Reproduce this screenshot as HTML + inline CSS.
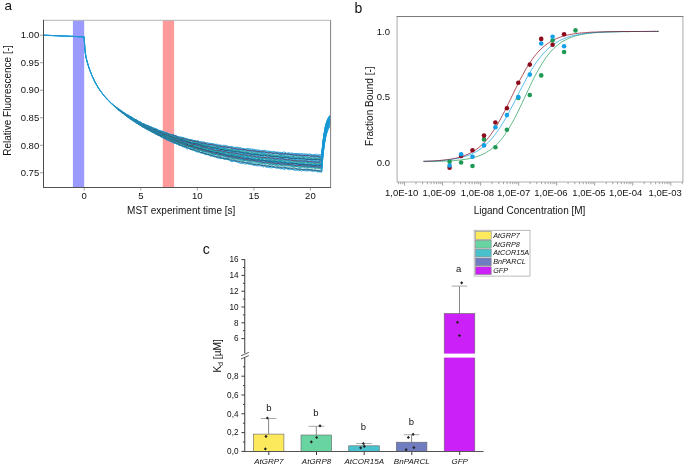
<!DOCTYPE html>
<html><head><meta charset="utf-8"><title>MST figure</title>
<style>
html,body{margin:0;padding:0;background:#fff;}
body{width:685px;height:467px;overflow:hidden;}
svg{display:block;font-family:"Liberation Sans", sans-serif;}
text{fill:#111;}
</style></head><body>
<svg width="685" height="467" viewBox="0 0 685 467">
<rect x="0" y="0" width="685" height="467" fill="#fff"/>
<g id="panel-a">
<text x="4.6" y="9.6" font-size="13.5">a</text>
<clipPath id="ca"><rect x="43.5" y="20.3" width="287.1" height="167.2"/></clipPath>
<rect x="72.9" y="20.3" width="11.3" height="167.2" fill="#9a9aff"/>
<rect x="162.8" y="20.3" width="11.3" height="167.2" fill="#ff9a9a"/>
<linearGradient id="g0" gradientUnits="userSpaceOnUse" x1="112.5" y1="0" x2="186.0" y2="0"><stop offset="0" stop-color="#9c0c1c" stop-opacity="0"/><stop offset="1" stop-color="#9c0c1c" stop-opacity="1"/></linearGradient>
<linearGradient id="g1" gradientUnits="userSpaceOnUse" x1="112.5" y1="0" x2="186.0" y2="0"><stop offset="0" stop-color="#1f9a55" stop-opacity="0"/><stop offset="1" stop-color="#1f9a55" stop-opacity="1"/></linearGradient>
<linearGradient id="g2" gradientUnits="userSpaceOnUse" x1="112.5" y1="0" x2="186.0" y2="0"><stop offset="0" stop-color="#2a2a2a" stop-opacity="0"/><stop offset="1" stop-color="#2a2a2a" stop-opacity="1"/></linearGradient>
<g clip-path="url(#ca)" fill="none" stroke-width="0.8" stroke-linejoin="round">
<polyline stroke="#1b9ad6" points="43.48,35.17 44.89,35.37 46.29,35.27 47.70,35.41 49.10,35.49 50.50,35.47 51.91,35.51 53.31,35.62 54.72,35.70 56.12,35.71 57.52,35.77 58.93,35.77 60.33,35.85 61.74,35.93 63.14,35.95 64.54,36.06 65.95,36.15 67.35,36.14 68.76,36.20 70.16,36.29 71.56,36.37 72.97,36.39 74.37,36.55 75.78,36.48 77.18,36.55 78.58,36.69 79.99,36.68 81.39,36.78 82.80,36.76 84.20,36.93 84.31,39.67 84.82,48.06 85.32,52.86 85.82,56.18 86.33,58.53 86.83,60.53 87.34,62.42 87.84,64.01 88.34,65.78 88.85,67.23 89.35,68.80 89.86,70.06 90.42,71.68 91.58,74.62 92.73,77.42 93.88,79.60 95.04,81.96 96.19,84.08 97.35,86.01 98.50,87.95 99.66,89.80 100.81,91.46 101.97,93.01 103.12,94.16 104.28,95.96 105.43,97.16 106.58,98.38 107.74,99.49 108.89,100.59 110.05,102.03 111.20,103.20 112.36,103.91 113.51,104.66 114.67,105.72 115.82,106.77 116.98,107.80 118.1,108.5 119.3,109.5 120.6,110.2 122.0,111.6 123.3,112.3 124.7,113.3 126.1,114.0 127.4,114.9 128.8,115.1 130.1,116.2 131.5,117.0 132.8,118.9 134.2,119.1 135.6,119.9 136.9,120.3 138.3,121.9 139.6,121.5 141.0,122.2 142.4,123.6 143.7,124.2 145.1,124.7 146.4,125.1 147.8,125.5 149.2,125.6 150.5,127.0 151.9,127.2 153.2,128.0 154.6,128.0 155.9,128.8 157.3,129.2 158.7,130.5 160.0,130.7 161.4,131.4 162.7,131.1 164.1,131.8 165.5,132.6 166.8,133.1 168.2,133.3 169.5,134.1 170.9,134.6 172.3,134.5 173.6,134.3 175.0,135.6 176.3,136.1 177.7,136.6 179.0,137.1 180.4,136.8 181.8,137.1 183.1,137.7 184.5,137.9 185.8,138.3 187.2,138.7 188.6,139.5 189.9,139.5 191.3,139.6 192.6,140.2 194.0,140.4 195.3,140.8 196.7,141.0 198.1,140.9 199.4,141.6 200.8,141.8 202.1,141.7 203.5,142.0 204.9,141.9 206.2,143.4 207.6,142.7 208.9,143.4 210.3,143.4 211.7,143.5 213.0,143.6 214.4,143.9 215.7,144.4 217.1,144.1 218.4,145.0 219.8,145.1 221.2,145.0 222.5,145.7 223.9,145.0 225.2,145.6 226.6,145.4 228.0,146.3 229.3,146.6 230.7,146.6 232.0,146.6 233.4,147.3 234.8,147.1 236.1,147.4 237.5,147.1 238.8,148.0 240.2,147.6 241.5,148.3 242.9,148.6 244.3,148.7 245.6,149.0 247.0,148.7 248.3,148.6 249.7,149.0 251.1,149.0 252.4,148.9 253.8,149.5 255.1,149.6 256.5,149.9 257.9,150.5 259.2,149.9 260.6,150.9 261.9,150.2 263.3,150.6 264.6,150.3 266.0,150.8 267.4,151.2 268.7,151.0 270.1,151.4 271.4,151.4 272.8,151.5 274.2,151.6 275.5,151.8 276.9,152.1 278.2,152.0 279.6,152.8 280.9,152.2 282.3,152.7 283.7,152.0 285.0,152.1 286.4,153.3 287.7,152.7 289.1,152.9 290.5,153.3 291.8,152.9 293.2,153.3 294.5,153.8 295.9,153.4 297.3,153.5 298.6,153.5 300.0,154.0 301.3,153.5 302.7,153.6 304.0,154.3 305.4,154.2 306.8,154.1 308.1,154.4 309.5,153.7 310.8,154.3 312.2,154.8 313.6,154.8 314.9,154.6 316.3,153.9 317.6,154.8 319.0,154.8 320.4,154.7 321.7,155.0 321.9,152.2 322.6,144.8 323.3,138.7 324.0,133.8 324.7,129.8 325.3,126.4 326.0,123.7 326.7,121.5 327.4,119.7 328.0,118.2 328.7,117.0 329.4,116.0 330.1,115.2 330.8,114.5"/>
<polyline stroke="#1b9ad6" points="114.67,105.72 115.82,106.79 116.98,107.64 118.1,108.8 119.3,109.4 120.6,110.6 122.0,111.5 123.3,112.7 124.7,113.7 126.1,114.3 127.4,115.4 128.8,116.2 130.1,116.5 131.5,117.5 132.8,117.4 134.2,118.8 135.6,120.0 136.9,120.3 138.3,121.1 139.6,122.2 141.0,122.3 142.4,123.6 143.7,125.0 145.1,124.3 146.4,125.4 147.8,125.3 149.2,126.7 150.5,127.4 151.9,127.1 153.2,128.5 154.6,128.6 155.9,128.8 157.3,129.7 158.7,130.3 160.0,130.8 161.4,131.0 162.7,132.0 164.1,132.1 165.5,132.5 166.8,132.4 168.2,133.7 169.5,134.4 170.9,134.2 172.3,135.0 173.6,135.2 175.0,135.7 176.3,135.7 177.7,136.7 179.0,136.9 180.4,138.1 181.8,137.9 183.1,137.5 184.5,138.5 185.8,138.9 187.2,139.4 188.6,139.1 189.9,139.6 191.3,140.4 192.6,140.1 194.0,140.5 195.3,140.6 196.7,141.4 198.1,140.9 199.4,141.6 200.8,142.1 202.1,142.5 203.5,142.7 204.9,142.6 206.2,143.2 207.6,143.0 208.9,143.4 210.3,143.4 211.7,143.8 213.0,144.4 214.4,145.2 215.7,144.7 217.1,144.8 218.4,145.2 219.8,145.3 221.2,145.9 222.5,146.0 223.9,146.4 225.2,145.9 226.6,146.5 228.0,146.9 229.3,147.4 230.7,147.2 232.0,146.8 233.4,147.4 234.8,147.9 236.1,147.4 237.5,147.6 238.8,147.9 240.2,148.1 241.5,148.2 242.9,148.6 244.3,148.7 245.6,149.3 247.0,148.8 248.3,149.3 249.7,148.9 251.1,150.4 252.4,149.6 253.8,149.7 255.1,150.3 256.5,150.2 257.9,150.2 259.2,150.4 260.6,150.9 261.9,151.0 263.3,150.7 264.6,150.8 266.0,151.3 267.4,151.4 268.7,151.5 270.1,151.4 271.4,152.2 272.8,152.4 274.2,152.0 275.5,152.6 276.9,152.5 278.2,152.4 279.6,152.4 280.9,153.0 282.3,152.5 283.7,153.5 285.0,152.8 286.4,153.7 287.7,153.7 289.1,153.1 290.5,153.6 291.8,153.8 293.2,153.8 294.5,153.6 295.9,153.9 297.3,154.0 298.6,153.7 300.0,154.4 301.3,154.4 302.7,154.5 304.0,154.0 305.4,154.2 306.8,154.2 308.1,154.7 309.5,154.8 310.8,154.6 312.2,155.1 313.6,154.8 314.9,154.9 316.3,155.4 317.6,155.3 319.0,155.4 320.4,154.8 321.7,154.6 321.9,152.7 322.6,145.3 323.3,139.2 324.0,134.2 324.7,130.2 325.3,126.8 326.0,124.1 326.7,121.9 327.4,120.0 328.0,118.5 328.7,117.3 329.4,116.3 330.1,115.5 330.8,114.8"/>
<polyline stroke="#1b9ad6" points="114.67,106.01 115.82,106.84 116.98,107.83 118.1,109.0 119.3,109.3 120.6,110.1 122.0,111.6 123.3,112.4 124.7,113.3 126.1,114.1 127.4,115.6 128.8,115.5 130.1,117.0 131.5,117.3 132.8,118.4 134.2,119.3 135.6,120.0 136.9,120.4 138.3,121.7 139.6,122.3 141.0,123.0 142.4,124.1 143.7,123.7 145.1,124.6 146.4,125.5 147.8,125.7 149.2,127.0 150.5,127.3 151.9,127.3 153.2,128.1 154.6,129.7 155.9,130.6 157.3,130.4 158.7,130.3 160.0,131.3 161.4,131.7 162.7,131.9 164.1,132.9 165.5,133.0 166.8,133.3 168.2,133.8 169.5,134.3 170.9,135.1 172.3,135.1 173.6,135.9 175.0,135.7 176.3,135.7 177.7,137.2 179.0,138.1 180.4,137.9 181.8,138.0 183.1,138.1 184.5,138.5 185.8,139.4 187.2,139.8 188.6,139.5 189.9,140.6 191.3,140.2 192.6,140.9 194.0,140.9 195.3,141.2 196.7,141.5 198.1,141.8 199.4,142.7 200.8,142.6 202.1,142.9 203.5,143.1 204.9,143.1 206.2,143.9 207.6,144.3 208.9,144.5 210.3,144.6 211.7,144.5 213.0,145.3 214.4,144.9 215.7,145.4 217.1,145.8 218.4,146.4 219.8,146.1 221.2,146.2 222.5,147.2 223.9,146.5 225.2,146.5 226.6,147.2 228.0,147.3 229.3,146.9 230.7,147.5 232.0,148.4 233.4,148.3 234.8,148.5 236.1,148.7 237.5,149.6 238.8,148.8 240.2,149.4 241.5,149.4 242.9,149.6 244.3,149.5 245.6,150.0 247.0,150.4 248.3,150.1 249.7,150.0 251.1,150.7 252.4,150.3 253.8,150.8 255.1,151.2 256.5,150.7 257.9,151.6 259.2,151.2 260.6,151.8 261.9,151.6 263.3,152.3 264.6,152.3 266.0,151.9 267.4,152.3 268.7,152.5 270.1,152.7 271.4,152.6 272.8,153.3 274.2,153.4 275.5,153.2 276.9,153.5 278.2,153.6 279.6,153.5 280.9,153.6 282.3,153.8 283.7,153.3 285.0,153.6 286.4,153.6 287.7,154.2 289.1,154.4 290.5,154.9 291.8,154.6 293.2,155.3 294.5,154.9 295.9,154.5 297.3,154.3 298.6,154.7 300.0,155.4 301.3,155.0 302.7,155.5 304.0,155.1 305.4,155.5 306.8,155.3 308.1,154.8 309.5,155.4 310.8,155.0 312.2,155.8 313.6,156.1 314.9,155.6 316.3,155.6 317.6,156.4 319.0,156.3 320.4,156.8 321.7,156.5 321.9,153.6 322.6,146.1 323.3,140.0 324.0,135.0 324.7,130.9 325.3,127.5 326.0,124.8 326.7,122.5 327.4,120.7 328.0,119.2 328.7,117.9 329.4,116.9 330.1,116.1 330.8,115.4"/>
<polyline stroke="#1b9ad6" points="115.82,107.02 116.98,108.16 118.1,108.8 119.3,109.7 120.6,110.5 122.0,111.1 123.3,112.4 124.7,113.2 126.1,114.3 127.4,115.2 128.8,116.3 130.1,117.4 131.5,117.6 132.8,117.9 134.2,119.1 135.6,120.2 136.9,120.2 138.3,121.6 139.6,122.4 141.0,123.3 142.4,123.8 143.7,124.3 145.1,124.2 146.4,125.5 147.8,126.4 149.2,126.9 150.5,127.4 151.9,128.5 153.2,128.4 154.6,128.8 155.9,129.5 157.3,129.9 158.7,131.1 160.0,131.7 161.4,131.3 162.7,131.8 164.1,133.2 165.5,133.1 166.8,133.6 168.2,133.9 169.5,134.4 170.9,135.1 172.3,135.3 173.6,135.8 175.0,136.2 176.3,137.2 177.7,138.0 179.0,137.7 180.4,138.3 181.8,138.1 183.1,138.3 184.5,138.8 185.8,139.4 187.2,139.6 188.6,139.6 189.9,140.5 191.3,140.3 192.6,140.7 194.0,141.2 195.3,141.1 196.7,142.1 198.1,141.9 199.4,142.8 200.8,143.0 202.1,143.4 203.5,143.2 204.9,143.9 206.2,143.8 207.6,144.5 208.9,144.0 210.3,144.0 211.7,144.8 213.0,144.6 214.4,145.2 215.7,144.9 217.1,145.8 218.4,146.6 219.8,145.8 221.2,146.6 222.5,147.1 223.9,147.2 225.2,147.7 226.6,147.5 228.0,148.0 229.3,147.3 230.7,147.8 232.0,148.8 233.4,148.9 234.8,148.8 236.1,149.4 237.5,149.0 238.8,149.2 240.2,149.6 241.5,149.7 242.9,149.5 244.3,149.4 245.6,149.6 247.0,150.2 248.3,150.1 249.7,150.8 251.1,150.6 252.4,151.2 253.8,150.8 255.1,151.6 256.5,151.7 257.9,151.5 259.2,151.4 260.6,152.3 261.9,152.1 263.3,152.0 264.6,152.1 266.0,152.6 267.4,152.4 268.7,152.7 270.1,152.3 271.4,152.7 272.8,153.4 274.2,153.9 275.5,153.2 276.9,153.0 278.2,153.4 279.6,153.3 280.9,153.9 282.3,154.3 283.7,153.7 285.0,154.0 286.4,154.0 287.7,154.8 289.1,154.3 290.5,154.7 291.8,154.4 293.2,154.9 294.5,155.0 295.9,155.1 297.3,154.6 298.6,155.1 300.0,155.5 301.3,155.6 302.7,155.7 304.0,155.0 305.4,156.2 306.8,156.0 308.1,155.6 309.5,155.5 310.8,156.0 312.2,155.8 313.6,155.9 314.9,155.9 316.3,156.3 317.6,155.8 319.0,156.4 320.4,156.0 321.7,156.9 321.9,153.7 322.6,146.2 323.3,140.1 324.0,135.1 324.7,131.0 325.3,127.6 326.0,124.9 326.7,122.6 327.4,120.8 328.0,119.3 328.7,118.0 329.4,117.0 330.1,116.2 330.8,115.5"/>
<polyline stroke="#1b9ad6" points="116.98,107.63 118.1,108.9 119.3,109.3 120.6,110.5 122.0,111.4 123.3,112.4 124.7,113.6 126.1,114.5 127.4,115.0 128.8,116.1 130.1,117.2 131.5,117.1 132.8,118.5 134.2,119.4 135.6,120.2 136.9,120.5 138.3,121.2 139.6,122.1 141.0,122.6 142.4,124.1 143.7,124.4 145.1,125.1 146.4,125.5 147.8,126.0 149.2,127.5 150.5,126.3 151.9,128.3 153.2,128.4 154.6,128.8 155.9,129.4 157.3,130.1 158.7,131.7 160.0,131.6 161.4,131.5 162.7,132.6 164.1,133.1 165.5,134.0 166.8,133.3 168.2,134.0 169.5,134.9 170.9,135.1 172.3,135.5 173.6,136.3 175.0,136.5 176.3,136.7 177.7,137.0 179.0,137.2 180.4,137.9 181.8,138.5 183.1,138.6 184.5,139.3 185.8,139.8 187.2,139.4 188.6,140.3 189.9,140.4 191.3,140.6 192.6,141.5 194.0,141.2 195.3,141.6 196.7,142.1 198.1,142.2 199.4,142.9 200.8,143.7 202.1,143.4 203.5,143.8 204.9,143.5 206.2,144.0 207.6,144.5 208.9,144.6 210.3,144.4 211.7,144.8 213.0,145.3 214.4,145.5 215.7,146.0 217.1,146.2 218.4,146.2 219.8,146.6 221.2,146.7 222.5,147.4 223.9,147.8 225.2,148.0 226.6,147.8 228.0,147.4 229.3,147.7 230.7,148.6 232.0,149.0 233.4,148.4 234.8,148.7 236.1,149.5 237.5,148.9 238.8,149.4 240.2,149.2 241.5,149.7 242.9,149.7 244.3,150.1 245.6,150.7 247.0,150.6 248.3,150.9 249.7,150.6 251.1,151.3 252.4,151.7 253.8,151.1 255.1,151.1 256.5,151.2 257.9,151.4 259.2,152.4 260.6,152.3 261.9,152.4 263.3,152.4 264.6,153.2 266.0,152.7 267.4,152.7 268.7,153.2 270.1,153.0 271.4,152.8 272.8,153.3 274.2,153.1 275.5,153.2 276.9,153.6 278.2,153.7 279.6,154.1 280.9,153.6 282.3,154.3 283.7,154.5 285.0,154.2 286.4,154.7 287.7,154.5 289.1,154.4 290.5,154.8 291.8,154.9 293.2,154.7 294.5,154.9 295.9,155.8 297.3,155.8 298.6,155.0 300.0,155.4 301.3,156.3 302.7,156.2 304.0,155.8 305.4,156.2 306.8,155.8 308.1,156.1 309.5,156.0 310.8,156.6 312.2,156.1 313.6,155.8 314.9,156.8 316.3,156.2 317.6,156.3 319.0,156.5 320.4,156.8 321.7,157.3 321.9,154.1 322.6,146.5 323.3,140.4 324.0,135.4 324.7,131.3 325.3,127.9 326.0,125.1 326.7,122.9 327.4,121.0 328.0,119.5 328.7,118.3 329.4,117.2 330.1,116.4 330.8,115.7"/>
<polyline stroke="#1b9ad6" points="116.98,107.87 118.1,108.9 119.3,109.5 120.6,110.7 122.0,111.8 123.3,112.5 124.7,113.6 126.1,114.8 127.4,115.6 128.8,116.4 130.1,117.1 131.5,117.8 132.8,118.3 134.2,119.2 135.6,119.6 136.9,120.5 138.3,121.7 139.6,121.8 141.0,122.7 142.4,123.9 143.7,124.3 145.1,124.7 146.4,125.6 147.8,126.0 149.2,126.9 150.5,127.4 151.9,128.3 153.2,128.7 154.6,129.5 155.9,129.7 157.3,131.0 158.7,130.9 160.0,131.1 161.4,131.9 162.7,132.6 164.1,132.9 165.5,133.8 166.8,134.3 168.2,134.6 169.5,135.0 170.9,135.1 172.3,136.2 173.6,136.0 175.0,137.2 176.3,137.4 177.7,137.6 179.0,137.6 180.4,138.6 181.8,139.4 183.1,139.0 184.5,139.5 185.8,140.2 187.2,140.6 188.6,140.8 189.9,140.9 191.3,141.0 192.6,142.1 194.0,141.2 195.3,142.3 196.7,142.7 198.1,142.6 199.4,143.1 200.8,142.7 202.1,143.4 203.5,144.2 204.9,144.5 206.2,144.8 207.6,145.0 208.9,144.9 210.3,145.7 211.7,145.2 213.0,146.0 214.4,146.3 215.7,146.1 217.1,147.4 218.4,147.3 219.8,147.0 221.2,147.4 222.5,147.6 223.9,147.7 225.2,148.3 226.6,148.4 228.0,149.0 229.3,149.4 230.7,148.5 232.0,149.5 233.4,149.6 234.8,149.1 236.1,149.4 237.5,150.1 238.8,150.3 240.2,150.3 241.5,150.8 242.9,150.5 244.3,150.8 245.6,151.0 247.0,151.0 248.3,151.1 249.7,150.9 251.1,151.2 252.4,152.4 253.8,151.7 255.1,152.6 256.5,152.8 257.9,152.3 259.2,152.9 260.6,152.9 261.9,152.6 263.3,153.3 264.6,153.5 266.0,153.3 267.4,153.1 268.7,153.5 270.1,154.3 271.4,154.1 272.8,154.1 274.2,153.5 275.5,154.0 276.9,154.2 278.2,154.2 279.6,154.8 280.9,154.6 282.3,154.8 283.7,155.4 285.0,155.2 286.4,155.1 287.7,155.7 289.1,155.2 290.5,155.3 291.8,155.4 293.2,156.1 294.5,155.9 295.9,155.5 297.3,155.8 298.6,156.5 300.0,156.2 301.3,155.9 302.7,156.5 304.0,156.5 305.4,155.8 306.8,156.8 308.1,156.9 309.5,157.3 310.8,157.3 312.2,156.6 313.6,157.2 314.9,157.7 316.3,157.7 317.6,157.4 319.0,157.3 320.4,157.8 321.7,157.4 321.9,154.8 322.6,147.3 323.3,141.1 324.0,136.0 324.7,131.9 325.3,128.5 326.0,125.7 326.7,123.4 327.4,121.6 328.0,120.0 328.7,118.8 329.4,117.8 330.1,116.9 330.8,116.2"/>
<polyline stroke="#1b9ad6" points="43.48,35.22 44.89,35.24 46.29,35.29 47.70,35.35 49.10,35.44 50.50,35.49 51.91,35.52 53.31,35.65 54.72,35.65 56.12,35.69 57.52,35.73 58.93,35.83 60.33,35.89 61.74,35.93 63.14,36.03 64.54,36.06 65.95,36.09 67.35,36.16 68.76,36.27 70.16,36.29 71.56,36.42 72.97,36.36 74.37,36.47 75.78,36.50 77.18,36.61 78.58,36.63 79.99,36.66 81.39,36.70 82.80,36.85 84.20,36.82 84.31,39.64 84.82,48.12 85.32,52.89 85.82,56.10 86.33,58.52 86.83,60.59 87.34,62.38 87.84,64.10 88.34,65.73 88.85,67.32 89.35,68.77 89.86,70.13 90.42,71.59 91.58,74.61 92.73,77.17 93.88,79.77 95.04,82.17 96.19,84.13 97.35,86.28 98.50,87.99 99.66,89.65 100.81,91.46 101.97,92.98 103.12,94.09 104.28,95.80 105.43,97.13 106.58,98.31 107.74,99.68 108.89,100.85 110.05,101.89 111.20,103.50 112.36,103.82 113.51,105.33 114.67,106.33 115.82,106.94 116.98,107.98 118.1,109.2 119.3,109.7 120.6,111.1 122.0,111.9 123.3,113.1 124.7,113.9 126.1,114.5 127.4,115.4 128.8,116.2 130.1,116.9 131.5,118.0 132.8,119.0 134.2,119.7 135.6,119.8 136.9,121.1 138.3,121.8 139.6,122.7 141.0,123.3 142.4,123.9 143.7,124.7 145.1,125.5 146.4,126.3 147.8,127.0 149.2,127.2 150.5,127.7 151.9,128.3 153.2,129.2 154.6,130.0 155.9,130.1 157.3,130.7 158.7,132.0 160.0,131.7 161.4,132.3 162.7,132.5 164.1,133.9 165.5,134.5 166.8,134.3 168.2,135.6 169.5,135.8 170.9,136.4 172.3,136.8 173.6,137.5 175.0,137.4 176.3,137.5 177.7,138.1 179.0,138.5 180.4,139.1 181.8,139.0 183.1,139.7 184.5,139.9 185.8,141.1 187.2,140.9 188.6,141.7 189.9,141.6 191.3,142.0 192.6,142.8 194.0,142.7 195.3,142.7 196.7,143.2 198.1,143.5 199.4,144.3 200.8,144.6 202.1,145.0 203.5,144.9 204.9,144.9 206.2,145.4 207.6,145.8 208.9,146.5 210.3,146.3 211.7,146.7 213.0,147.6 214.4,147.8 215.7,147.6 217.1,148.0 218.4,147.4 219.8,148.2 221.2,148.8 222.5,148.9 223.9,148.4 225.2,149.5 226.6,149.1 228.0,149.5 229.3,149.3 230.7,149.9 232.0,150.4 233.4,150.3 234.8,150.7 236.1,150.6 237.5,151.1 238.8,150.6 240.2,151.5 241.5,151.5 242.9,152.1 244.3,152.0 245.6,152.2 247.0,152.3 248.3,152.3 249.7,152.9 251.1,153.2 252.4,152.7 253.8,153.3 255.1,153.6 256.5,153.2 257.9,153.5 259.2,154.7 260.6,154.2 261.9,153.9 263.3,154.1 264.6,154.6 266.0,154.1 267.4,155.0 268.7,155.0 270.1,155.0 271.4,155.2 272.8,155.1 274.2,155.1 275.5,155.6 276.9,155.2 278.2,156.1 279.6,156.0 280.9,155.5 282.3,156.2 283.7,156.0 285.0,156.6 286.4,156.6 287.7,156.7 289.1,156.7 290.5,157.0 291.8,157.0 293.2,156.9 294.5,156.8 295.9,157.3 297.3,157.2 298.6,157.2 300.0,158.0 301.3,158.2 302.7,157.3 304.0,157.5 305.4,158.0 306.8,158.0 308.1,158.5 309.5,158.7 310.8,158.2 312.2,158.9 313.6,158.2 314.9,158.8 316.3,158.6 317.6,158.1 319.0,158.2 320.4,159.0 321.7,158.6 321.9,156.1 322.6,148.5 323.3,142.2 324.0,137.1 324.7,132.9 325.3,129.5 326.0,126.6 326.7,124.3 327.4,122.5 328.0,120.9 328.7,119.7 329.4,118.6 330.1,117.8 330.8,117.1"/>
<polyline stroke="#1b9ad6" points="118.1,108.8 119.3,110.0 120.6,110.7 122.0,111.6 123.3,112.2 124.7,113.5 126.1,114.2 127.4,115.5 128.8,116.4 130.1,116.8 131.5,117.9 132.8,118.5 134.2,119.5 135.6,119.8 136.9,120.5 138.3,122.3 139.6,122.1 141.0,123.3 142.4,124.0 143.7,124.9 145.1,125.3 146.4,126.6 147.8,127.1 149.2,127.8 150.5,128.1 151.9,128.5 153.2,129.1 154.6,129.9 155.9,130.8 157.3,131.7 158.7,131.6 160.0,132.2 161.4,132.7 162.7,132.9 164.1,133.9 165.5,134.4 166.8,135.6 168.2,135.2 169.5,135.9 170.9,136.6 172.3,136.7 173.6,137.6 175.0,137.9 176.3,137.5 177.7,138.3 179.0,138.7 180.4,139.2 181.8,139.6 183.1,140.2 184.5,139.9 185.8,141.0 187.2,141.2 188.6,141.9 189.9,142.3 191.3,143.3 192.6,143.5 194.0,142.7 195.3,143.1 196.7,144.0 198.1,144.2 199.4,144.4 200.8,145.2 202.1,144.6 203.5,145.8 204.9,146.0 206.2,147.0 207.6,145.9 208.9,146.7 210.3,146.4 211.7,147.6 213.0,147.4 214.4,147.8 215.7,148.0 217.1,147.6 218.4,147.8 219.8,148.4 221.2,149.2 222.5,149.0 223.9,149.1 225.2,149.6 226.6,149.8 228.0,150.1 229.3,150.8 230.7,150.6 232.0,150.4 233.4,151.5 234.8,151.3 236.1,151.3 237.5,152.2 238.8,152.0 240.2,152.7 241.5,152.6 242.9,153.0 244.3,153.0 245.6,153.1 247.0,153.2 248.3,153.4 249.7,154.3 251.1,153.1 252.4,153.9 253.8,154.3 255.1,154.4 256.5,154.2 257.9,154.8 259.2,154.8 260.6,154.9 261.9,154.8 263.3,155.3 264.6,155.1 266.0,155.3 267.4,155.6 268.7,155.3 270.1,155.8 271.4,156.3 272.8,156.0 274.2,156.2 275.5,156.4 276.9,156.4 278.2,155.8 279.6,156.7 280.9,156.7 282.3,157.1 283.7,156.7 285.0,157.2 286.4,157.6 287.7,157.9 289.1,157.4 290.5,157.4 291.8,158.3 293.2,158.1 294.5,157.8 295.9,157.8 297.3,158.6 298.6,158.4 300.0,158.1 301.3,158.7 302.7,158.8 304.0,158.9 305.4,159.2 306.8,158.9 308.1,158.9 309.5,159.5 310.8,159.1 312.2,158.9 313.6,159.3 314.9,159.1 316.3,159.7 317.6,159.1 319.0,159.9 320.4,159.1 321.7,159.9 321.9,156.9 322.6,149.2 323.3,142.9 324.0,137.7 324.7,133.5 325.3,130.1 326.0,127.2 326.7,124.9 327.4,123.0 328.0,121.5 328.7,120.2 329.4,119.2 330.1,118.3 330.8,117.6"/>
<polyline stroke="#1b9ad6" points="118.1,109.0 119.3,109.3 120.6,110.6 122.0,111.9 123.3,112.8 124.7,113.3 126.1,114.2 127.4,115.5 128.8,116.5 130.1,117.7 131.5,118.2 132.8,119.0 134.2,120.0 135.6,120.0 136.9,121.9 138.3,122.1 139.6,122.7 141.0,123.4 142.4,123.7 143.7,125.4 145.1,125.9 146.4,126.3 147.8,126.9 149.2,127.7 150.5,128.5 151.9,128.5 153.2,129.8 154.6,130.2 155.9,130.2 157.3,130.6 158.7,131.5 160.0,132.6 161.4,133.2 162.7,133.7 164.1,134.3 165.5,134.6 166.8,134.5 168.2,135.4 169.5,136.2 170.9,136.7 172.3,137.3 173.6,136.9 175.0,138.5 176.3,138.1 177.7,139.1 179.0,139.4 180.4,140.0 181.8,139.6 183.1,140.4 184.5,139.8 185.8,141.5 187.2,141.9 188.6,141.7 189.9,142.1 191.3,142.7 192.6,143.6 194.0,142.8 195.3,143.5 196.7,143.9 198.1,144.5 199.4,144.5 200.8,145.2 202.1,145.3 203.5,145.7 204.9,145.5 206.2,146.4 207.6,146.6 208.9,146.4 210.3,147.0 211.7,147.4 213.0,147.7 214.4,147.6 215.7,148.4 217.1,148.3 218.4,148.0 219.8,148.8 221.2,149.5 222.5,149.9 223.9,149.7 225.2,150.3 226.6,150.7 228.0,150.7 229.3,151.0 230.7,150.6 232.0,151.6 233.4,150.8 234.8,151.8 236.1,151.7 237.5,151.7 238.8,152.0 240.2,152.1 241.5,152.8 242.9,153.5 244.3,153.0 245.6,153.6 247.0,153.5 248.3,153.1 249.7,153.7 251.1,154.0 252.4,154.3 253.8,154.2 255.1,154.4 256.5,155.0 257.9,154.5 259.2,155.2 260.6,154.9 261.9,155.3 263.3,154.9 264.6,155.1 266.0,155.6 267.4,155.7 268.7,155.7 270.1,155.5 271.4,155.8 272.8,156.2 274.2,156.3 275.5,156.0 276.9,157.2 278.2,156.6 279.6,157.2 280.9,156.6 282.3,157.3 283.7,157.3 285.0,157.7 286.4,157.5 287.7,157.3 289.1,157.2 290.5,158.2 291.8,158.1 293.2,156.8 294.5,157.8 295.9,158.3 297.3,158.2 298.6,159.3 300.0,158.0 301.3,158.6 302.7,159.2 304.0,158.5 305.4,159.1 306.8,159.4 308.1,158.9 309.5,159.1 310.8,159.4 312.2,159.4 313.6,159.9 314.9,160.0 316.3,159.3 317.6,159.3 319.0,159.6 320.4,159.7 321.7,160.1 321.9,157.0 322.6,149.3 323.3,143.0 324.0,137.9 324.7,133.6 325.3,130.2 326.0,127.3 326.7,125.0 327.4,123.1 328.0,121.6 328.7,120.3 329.4,119.3 330.1,118.4 330.8,117.7"/>
<polyline stroke="#1b9ad6" points="119.3,110.1 120.6,110.9 122.0,111.7 123.3,112.8 124.7,114.0 126.1,114.4 127.4,115.6 128.8,116.8 130.1,116.7 131.5,118.6 132.8,119.0 134.2,120.0 135.6,120.5 136.9,121.2 138.3,122.4 139.6,122.9 141.0,123.6 142.4,124.6 143.7,124.6 145.1,125.6 146.4,126.4 147.8,127.2 149.2,127.8 150.5,128.2 151.9,129.1 153.2,129.1 154.6,131.0 155.9,131.4 157.3,131.4 158.7,132.5 160.0,132.4 161.4,133.2 162.7,133.3 164.1,133.9 165.5,134.1 166.8,134.8 168.2,135.2 169.5,135.9 170.9,136.2 172.3,136.8 173.6,137.7 175.0,138.3 176.3,138.8 177.7,138.7 179.0,140.0 180.4,139.6 181.8,140.3 183.1,140.3 184.5,140.8 185.8,141.5 187.2,141.7 188.6,142.8 189.9,142.3 191.3,142.7 192.6,143.8 194.0,143.2 195.3,143.9 196.7,144.2 198.1,145.0 199.4,144.7 200.8,145.0 202.1,145.5 203.5,146.2 204.9,145.9 206.2,146.0 207.6,146.6 208.9,146.7 210.3,147.5 211.7,147.6 213.0,147.8 214.4,148.1 215.7,147.5 217.1,148.6 218.4,149.1 219.8,148.9 221.2,149.8 222.5,149.6 223.9,149.7 225.2,150.4 226.6,150.5 228.0,151.0 229.3,150.8 230.7,151.3 232.0,150.8 233.4,151.3 234.8,151.8 236.1,152.4 237.5,151.5 238.8,151.9 240.2,152.4 241.5,152.7 242.9,152.9 244.3,153.3 245.6,152.7 247.0,153.5 248.3,154.2 249.7,154.1 251.1,154.9 252.4,154.0 253.8,154.2 255.1,154.0 256.5,154.1 257.9,155.2 259.2,154.9 260.6,154.9 261.9,155.1 263.3,155.7 264.6,155.4 266.0,155.7 267.4,155.5 268.7,156.1 270.1,156.3 271.4,156.6 272.8,156.7 274.2,156.9 275.5,156.9 276.9,156.8 278.2,156.9 279.6,156.8 280.9,157.0 282.3,157.2 283.7,158.0 285.0,157.5 286.4,157.4 287.7,158.4 289.1,158.4 290.5,158.5 291.8,158.6 293.2,158.5 294.5,158.8 295.9,158.5 297.3,159.1 298.6,158.8 300.0,159.1 301.3,159.3 302.7,158.7 304.0,159.2 305.4,159.1 306.8,159.5 308.1,159.2 309.5,159.3 310.8,159.7 312.2,160.3 313.6,159.5 314.9,159.7 316.3,159.9 317.6,160.0 319.0,160.1 320.4,160.1 321.7,160.6 321.9,157.4 322.6,149.6 323.3,143.3 324.0,138.1 324.7,133.9 325.3,130.4 326.0,127.6 326.7,125.3 327.4,123.4 328.0,121.8 328.7,120.5 329.4,119.5 330.1,118.6 330.8,117.9"/>
<polyline stroke="#1b9ad6" points="120.6,110.8 122.0,112.1 123.3,112.9 124.7,113.7 126.1,114.7 127.4,115.4 128.8,116.7 130.1,116.9 131.5,118.9 132.8,119.3 134.2,119.6 135.6,120.8 136.9,121.7 138.3,122.9 139.6,122.7 141.0,124.4 142.4,124.4 143.7,125.2 145.1,125.6 146.4,126.1 147.8,127.5 149.2,128.2 150.5,128.7 151.9,129.8 153.2,129.6 154.6,130.6 155.9,131.0 157.3,132.0 158.7,132.2 160.0,133.0 161.4,133.4 162.7,134.3 164.1,134.1 165.5,135.2 166.8,136.3 168.2,135.8 169.5,136.6 170.9,137.3 172.3,136.7 173.6,138.0 175.0,138.9 176.3,139.1 177.7,139.2 179.0,139.9 180.4,139.8 181.8,140.3 183.1,141.3 184.5,141.5 185.8,141.7 187.2,142.4 188.6,142.8 189.9,142.8 191.3,143.3 192.6,144.3 194.0,144.4 195.3,144.7 196.7,144.9 198.1,145.5 199.4,145.1 200.8,146.2 202.1,146.6 203.5,146.5 204.9,147.6 206.2,147.5 207.6,147.3 208.9,148.2 210.3,148.4 211.7,148.0 213.0,148.5 214.4,148.9 215.7,149.2 217.1,149.7 218.4,149.7 219.8,150.1 221.2,149.5 222.5,150.4 223.9,150.9 225.2,151.1 226.6,151.3 228.0,152.0 229.3,152.0 230.7,151.5 232.0,152.7 233.4,152.6 234.8,152.3 236.1,152.4 237.5,153.4 238.8,152.8 240.2,153.6 241.5,153.2 242.9,153.7 244.3,154.2 245.6,154.1 247.0,154.3 248.3,154.9 249.7,154.1 251.1,155.2 252.4,154.8 253.8,155.6 255.1,156.2 256.5,156.1 257.9,155.9 259.2,155.8 260.6,155.6 261.9,156.4 263.3,156.6 264.6,157.1 266.0,156.9 267.4,156.9 268.7,157.9 270.1,156.9 271.4,157.0 272.8,156.8 274.2,158.0 275.5,157.8 276.9,158.0 278.2,158.5 279.6,158.5 280.9,158.7 282.3,158.3 283.7,158.5 285.0,158.3 286.4,159.0 287.7,159.4 289.1,158.9 290.5,159.1 291.8,159.1 293.2,159.0 294.5,159.7 295.9,159.4 297.3,160.1 298.6,159.8 300.0,159.7 301.3,160.1 302.7,160.1 304.0,160.7 305.4,160.5 306.8,160.4 308.1,160.9 309.5,160.9 310.8,159.9 312.2,160.7 313.6,161.1 314.9,161.3 316.3,160.6 317.6,162.0 319.0,161.3 320.4,161.1 321.7,161.5 321.9,158.4 322.6,150.6 323.3,144.2 324.0,139.0 324.7,134.7 325.3,131.2 326.0,128.3 326.7,126.0 327.4,124.1 328.0,122.5 328.7,121.2 329.4,120.2 330.1,119.3 330.8,118.6"/>
<polyline stroke="#1b9ad6" points="120.6,110.6 122.0,112.0 123.3,113.0 124.7,113.3 126.1,115.3 127.4,115.7 128.8,116.3 130.1,117.1 131.5,117.7 132.8,119.4 134.2,119.8 135.6,120.9 136.9,121.8 138.3,122.6 139.6,123.6 141.0,123.8 142.4,124.4 143.7,125.7 145.1,125.8 146.4,126.9 147.8,127.7 149.2,128.9 150.5,128.3 151.9,129.1 153.2,130.1 154.6,130.7 155.9,131.6 157.3,131.6 158.7,132.4 160.0,132.8 161.4,133.4 162.7,134.5 164.1,135.1 165.5,135.0 166.8,136.2 168.2,136.1 169.5,136.4 170.9,137.6 172.3,137.4 173.6,138.1 175.0,138.4 176.3,139.3 177.7,139.5 179.0,139.8 180.4,139.8 181.8,140.6 183.1,141.1 184.5,142.1 185.8,141.9 187.2,142.7 188.6,142.9 189.9,143.1 191.3,143.3 192.6,143.8 194.0,144.3 195.3,144.7 196.7,144.6 198.1,145.7 199.4,145.8 200.8,145.6 202.1,146.5 203.5,146.5 204.9,146.8 206.2,146.7 207.6,147.3 208.9,148.6 210.3,148.3 211.7,148.5 213.0,148.6 214.4,149.0 215.7,148.8 217.1,149.4 218.4,150.4 219.8,150.5 221.2,151.2 222.5,150.2 223.9,151.1 225.2,151.3 226.6,152.1 228.0,151.9 229.3,151.9 230.7,152.4 232.0,152.6 233.4,152.9 234.8,152.3 236.1,153.4 237.5,153.9 238.8,153.8 240.2,153.9 241.5,154.0 242.9,154.3 244.3,154.8 245.6,154.7 247.0,154.7 248.3,155.5 249.7,154.5 251.1,154.8 252.4,156.1 253.8,155.8 255.1,155.5 256.5,155.6 257.9,155.6 259.2,157.0 260.6,156.9 261.9,156.9 263.3,156.7 264.6,157.4 266.0,157.0 267.4,157.2 268.7,157.2 270.1,158.0 271.4,157.7 272.8,157.9 274.2,158.2 275.5,157.7 276.9,158.4 278.2,157.9 279.6,158.8 280.9,158.1 282.3,158.2 283.7,159.2 285.0,158.9 286.4,159.1 287.7,159.6 289.1,159.1 290.5,159.3 291.8,159.9 293.2,159.7 294.5,159.5 295.9,160.0 297.3,160.3 298.6,159.6 300.0,160.6 301.3,160.2 302.7,160.1 304.0,160.3 305.4,161.2 306.8,160.8 308.1,160.8 309.5,161.0 310.8,160.8 312.2,160.9 313.6,161.1 314.9,161.1 316.3,161.0 317.6,161.0 319.0,162.1 320.4,160.8 321.7,161.8 321.9,158.6 322.6,150.8 323.3,144.4 324.0,139.2 324.7,134.9 325.3,131.4 326.0,128.6 326.7,126.2 327.4,124.3 328.0,122.7 328.7,121.4 329.4,120.4 330.1,119.5 330.8,118.8"/>
<polyline stroke="#1b9ad6" points="122.0,112.0 123.3,112.8 124.7,114.4 126.1,114.8 127.4,116.3 128.8,116.4 130.1,117.9 131.5,118.4 132.8,119.6 134.2,120.1 135.6,121.5 136.9,121.6 138.3,122.3 139.6,123.3 141.0,123.5 142.4,124.6 143.7,125.2 145.1,126.0 146.4,126.2 147.8,127.8 149.2,128.3 150.5,129.0 151.9,129.3 153.2,130.1 154.6,130.5 155.9,131.3 157.3,132.2 158.7,132.6 160.0,133.0 161.4,134.5 162.7,133.8 164.1,135.0 165.5,135.5 166.8,135.8 168.2,136.5 169.5,137.4 170.9,137.5 172.3,137.5 173.6,138.1 175.0,138.5 176.3,139.6 177.7,139.9 179.0,139.9 180.4,140.2 181.8,141.2 183.1,141.9 184.5,142.7 185.8,142.0 187.2,143.4 188.6,143.1 189.9,143.3 191.3,142.9 192.6,144.3 194.0,144.8 195.3,145.0 196.7,145.3 198.1,145.4 199.4,146.0 200.8,146.8 202.1,147.6 203.5,147.1 204.9,147.8 206.2,147.4 207.6,148.6 208.9,148.4 210.3,149.1 211.7,149.4 213.0,148.8 214.4,149.6 215.7,150.0 217.1,150.0 218.4,150.8 219.8,150.9 221.2,151.3 222.5,150.7 223.9,151.5 225.2,151.6 226.6,151.7 228.0,152.4 229.3,152.6 230.7,153.4 232.0,152.9 233.4,153.2 234.8,153.7 236.1,153.3 237.5,154.6 238.8,154.0 240.2,154.8 241.5,155.0 242.9,154.9 244.3,154.5 245.6,155.6 247.0,155.7 248.3,156.0 249.7,155.1 251.1,155.8 252.4,156.0 253.8,155.6 255.1,156.4 256.5,157.4 257.9,157.0 259.2,157.4 260.6,156.5 261.9,157.8 263.3,157.4 264.6,157.8 266.0,157.9 267.4,157.9 268.7,158.1 270.1,158.5 271.4,158.8 272.8,158.7 274.2,159.0 275.5,159.1 276.9,158.9 278.2,159.1 279.6,159.0 280.9,159.4 282.3,158.8 283.7,159.8 285.0,160.0 286.4,159.5 287.7,160.2 289.1,160.0 290.5,159.8 291.8,160.3 293.2,160.5 294.5,160.2 295.9,160.5 297.3,160.9 298.6,161.2 300.0,161.0 301.3,161.6 302.7,161.4 304.0,161.6 305.4,161.2 306.8,161.1 308.1,161.7 309.5,161.7 310.8,162.0 312.2,162.2 313.6,162.0 314.9,161.7 316.3,161.9 317.6,161.9 319.0,162.3 320.4,163.2 321.7,162.0 321.9,159.3 322.6,151.5 323.3,145.1 324.0,139.8 324.7,135.5 325.3,132.0 326.0,129.1 326.7,126.7 327.4,124.8 328.0,123.2 328.7,121.9 329.4,120.8 330.1,120.0 330.8,119.2"/>
<polyline stroke="#1b9ad6" points="43.48,35.15 44.89,35.22 46.29,35.28 47.70,35.33 49.10,35.32 50.50,35.47 51.91,35.48 53.31,35.57 54.72,35.63 56.12,35.72 57.52,35.78 58.93,35.87 60.33,35.86 61.74,35.95 63.14,36.05 64.54,36.09 65.95,36.16 67.35,36.10 68.76,36.24 70.16,36.28 71.56,36.39 72.97,36.44 74.37,36.41 75.78,36.52 77.18,36.56 78.58,36.55 79.99,36.59 81.39,36.71 82.80,36.77 84.20,36.84 84.31,39.64 84.82,48.00 85.32,52.96 85.82,56.09 86.33,58.60 86.83,60.62 87.34,62.37 87.84,64.08 88.34,65.70 88.85,67.28 89.35,68.79 89.86,70.20 90.42,71.72 91.58,74.53 92.73,77.18 93.88,79.74 95.04,82.14 96.19,84.32 97.35,86.18 98.50,88.10 99.66,90.06 100.81,91.29 101.97,93.04 103.12,94.56 104.28,96.06 105.43,97.41 106.58,98.40 107.74,99.95 108.89,100.95 110.05,101.99 111.20,102.84 112.36,104.15 113.51,105.32 114.67,106.41 115.82,107.09 116.98,108.00 118.1,109.3 119.3,109.9 120.6,111.1 122.0,112.5 123.3,113.4 124.7,113.8 126.1,114.6 127.4,115.7 128.8,116.9 130.1,117.9 131.5,118.4 132.8,119.3 134.2,120.8 135.6,120.8 136.9,122.1 138.3,122.4 139.6,123.2 141.0,123.9 142.4,124.5 143.7,125.3 145.1,126.7 146.4,127.3 147.8,127.3 149.2,128.2 150.5,129.6 151.9,130.4 153.2,130.0 154.6,130.2 155.9,131.3 157.3,132.3 158.7,132.7 160.0,134.3 161.4,134.3 162.7,134.1 164.1,134.8 165.5,136.3 166.8,135.7 168.2,136.5 169.5,136.9 170.9,137.8 172.3,138.2 173.6,139.1 175.0,139.1 176.3,139.3 177.7,140.4 179.0,140.5 180.4,141.2 181.8,141.1 183.1,141.6 184.5,143.2 185.8,142.6 187.2,142.8 188.6,143.8 189.9,144.1 191.3,144.4 192.6,145.2 194.0,145.2 195.3,145.0 196.7,145.7 198.1,145.8 199.4,146.3 200.8,146.6 202.1,147.3 203.5,147.4 204.9,147.3 206.2,147.8 207.6,148.5 208.9,149.2 210.3,149.6 211.7,149.5 213.0,149.7 214.4,150.8 215.7,150.4 217.1,150.6 218.4,150.9 219.8,151.5 221.2,150.8 222.5,151.6 223.9,152.6 225.2,152.6 226.6,152.4 228.0,152.7 229.3,153.1 230.7,153.4 232.0,153.7 233.4,154.0 234.8,154.4 236.1,154.1 237.5,155.5 238.8,155.0 240.2,154.5 241.5,155.4 242.9,155.8 244.3,154.9 245.6,155.4 247.0,156.0 248.3,156.4 249.7,156.4 251.1,156.7 252.4,156.8 253.8,157.2 255.1,156.9 256.5,157.5 257.9,158.1 259.2,158.1 260.6,157.8 261.9,158.3 263.3,158.9 264.6,157.7 266.0,158.2 267.4,158.7 268.7,158.9 270.1,158.7 271.4,158.5 272.8,159.4 274.2,159.2 275.5,159.7 276.9,159.5 278.2,160.1 279.6,160.5 280.9,159.9 282.3,160.1 283.7,160.0 285.0,160.6 286.4,160.0 287.7,160.6 289.1,160.2 290.5,160.9 291.8,160.4 293.2,161.1 294.5,161.1 295.9,160.9 297.3,162.0 298.6,161.8 300.0,160.9 301.3,162.2 302.7,161.9 304.0,161.7 305.4,161.5 306.8,162.2 308.1,162.1 309.5,162.6 310.8,162.5 312.2,162.1 313.6,162.4 314.9,162.6 316.3,162.5 317.6,162.7 319.0,162.8 320.4,163.0 321.7,163.3 321.9,160.0 322.6,152.1 323.3,145.6 324.0,140.3 324.7,136.0 325.3,132.4 326.0,129.5 326.7,127.2 327.4,125.2 328.0,123.6 328.7,122.3 329.4,121.3 330.1,120.4 330.8,119.7"/>
<polyline stroke="#1b9ad6" points="122.0,112.4 123.3,113.1 124.7,114.0 126.1,115.0 127.4,115.7 128.8,117.3 130.1,117.6 131.5,118.8 132.8,119.5 134.2,120.1 135.6,121.0 136.9,122.1 138.3,122.4 139.6,123.4 141.0,123.8 142.4,124.5 143.7,125.7 145.1,126.7 146.4,127.0 147.8,127.4 149.2,128.3 150.5,129.4 151.9,130.3 153.2,130.7 154.6,131.3 155.9,131.4 157.3,132.2 158.7,132.5 160.0,133.4 161.4,133.4 162.7,134.5 164.1,134.9 165.5,135.8 166.8,136.0 168.2,136.3 169.5,137.0 170.9,137.3 172.3,138.4 173.6,138.6 175.0,138.6 176.3,139.6 177.7,140.2 179.0,140.7 180.4,141.3 181.8,141.5 183.1,141.5 184.5,142.2 185.8,142.8 187.2,143.5 188.6,144.0 189.9,143.3 191.3,144.6 192.6,144.8 194.0,145.4 195.3,145.5 196.7,146.1 198.1,146.3 199.4,146.2 200.8,147.3 202.1,147.2 203.5,147.8 204.9,147.8 206.2,148.6 207.6,148.6 208.9,149.4 210.3,150.0 211.7,150.1 213.0,150.3 214.4,150.6 215.7,150.7 217.1,150.5 218.4,151.5 219.8,151.3 221.2,151.6 222.5,152.2 223.9,152.5 225.2,152.3 226.6,152.6 228.0,153.1 229.3,153.3 230.7,153.5 232.0,154.1 233.4,153.9 234.8,154.1 236.1,153.8 237.5,155.0 238.8,155.1 240.2,155.0 241.5,155.5 242.9,155.6 244.3,155.7 245.6,156.0 247.0,156.1 248.3,156.1 249.7,157.0 251.1,156.5 252.4,157.6 253.8,156.5 255.1,156.9 256.5,157.6 257.9,157.2 259.2,157.8 260.6,157.7 261.9,157.8 263.3,158.1 264.6,158.4 266.0,158.3 267.4,158.7 268.7,158.9 270.1,159.3 271.4,159.7 272.8,158.7 274.2,159.1 275.5,160.0 276.9,159.5 278.2,159.7 279.6,160.7 280.9,160.3 282.3,160.2 283.7,159.8 285.0,160.1 286.4,160.2 287.7,160.6 289.1,160.5 290.5,161.3 291.8,160.8 293.2,160.9 294.5,161.7 295.9,161.3 297.3,161.0 298.6,160.9 300.0,161.2 301.3,162.0 302.7,161.9 304.0,162.1 305.4,161.7 306.8,162.4 308.1,162.6 309.5,162.9 310.8,162.4 312.2,162.4 313.6,162.8 314.9,162.9 316.3,162.8 317.6,162.4 319.0,163.4 320.4,163.0 321.7,163.0 321.9,160.1 322.6,152.2 323.3,145.7 324.0,140.4 324.7,136.1 325.3,132.5 326.0,129.6 326.7,127.3 327.4,125.3 328.0,123.7 328.7,122.4 329.4,121.3 330.1,120.5 330.8,119.7"/>
<polyline stroke="#1b9ad6" points="123.3,112.9 124.7,114.4 126.1,115.0 127.4,116.0 128.8,117.0 130.1,118.1 131.5,118.8 132.8,120.2 134.2,120.5 135.6,121.2 136.9,122.3 138.3,122.7 139.6,123.6 141.0,124.7 142.4,124.9 143.7,126.1 145.1,125.9 146.4,127.8 147.8,128.4 149.2,129.0 150.5,129.4 151.9,129.8 153.2,130.8 154.6,131.6 155.9,131.5 157.3,132.4 158.7,133.5 160.0,134.0 161.4,135.1 162.7,135.1 164.1,135.2 165.5,136.7 166.8,137.3 168.2,137.4 169.5,138.7 170.9,138.0 172.3,139.5 173.6,139.8 175.0,140.1 176.3,140.1 177.7,140.9 179.0,142.1 180.4,142.5 181.8,142.4 183.1,143.6 184.5,143.5 185.8,144.1 187.2,144.0 188.6,144.3 189.9,145.9 191.3,145.4 192.6,145.7 194.0,146.6 195.3,146.9 196.7,147.5 198.1,147.6 199.4,147.7 200.8,147.8 202.1,148.1 203.5,149.0 204.9,149.6 206.2,149.3 207.6,150.9 208.9,150.8 210.3,150.4 211.7,150.2 213.0,151.5 214.4,151.6 215.7,152.3 217.1,152.2 218.4,152.5 219.8,153.0 221.2,152.9 222.5,153.4 223.9,153.5 225.2,154.0 226.6,154.6 228.0,154.4 229.3,154.4 230.7,155.2 232.0,154.7 233.4,155.3 234.8,155.8 236.1,155.9 237.5,156.3 238.8,156.7 240.2,156.3 241.5,156.5 242.9,157.2 244.3,157.3 245.6,157.5 247.0,157.4 248.3,157.4 249.7,158.3 251.1,158.1 252.4,158.4 253.8,158.4 255.1,158.3 256.5,159.3 257.9,159.9 259.2,159.4 260.6,160.0 261.9,159.1 263.3,160.1 264.6,160.1 266.0,160.1 267.4,160.3 268.7,160.6 270.1,160.6 271.4,160.5 272.8,161.0 274.2,160.5 275.5,161.1 276.9,162.1 278.2,161.2 279.6,162.2 280.9,161.7 282.3,161.2 283.7,161.7 285.0,162.5 286.4,162.5 287.7,162.4 289.1,162.0 290.5,162.9 291.8,162.4 293.2,162.8 294.5,163.0 295.9,163.1 297.3,162.6 298.6,163.8 300.0,163.8 301.3,163.2 302.7,163.3 304.0,164.1 305.4,164.1 306.8,164.3 308.1,163.8 309.5,164.3 310.8,163.7 312.2,164.0 313.6,164.3 314.9,164.4 316.3,164.3 317.6,164.3 319.0,164.7 320.4,164.7 321.7,164.6 321.9,161.8 322.6,153.8 323.3,147.2 324.0,141.9 324.7,137.5 325.3,133.9 326.0,130.9 326.7,128.5 327.4,126.5 328.0,124.9 328.7,123.6 329.4,122.5 330.1,121.6 330.8,120.9"/>
<polyline stroke="#1b9ad6" points="123.3,113.6 124.7,114.0 126.1,114.4 127.4,116.4 128.8,117.2 130.1,117.6 131.5,119.0 132.8,119.5 134.2,120.6 135.6,121.4 136.9,121.9 138.3,123.0 139.6,124.2 141.0,124.2 142.4,125.3 143.7,126.2 145.1,127.0 146.4,127.3 147.8,128.4 149.2,128.8 150.5,129.2 151.9,130.2 153.2,130.5 154.6,132.0 155.9,132.0 157.3,132.6 158.7,132.8 160.0,134.0 161.4,134.3 162.7,135.3 164.1,136.1 165.5,136.6 166.8,137.1 168.2,137.2 169.5,138.3 170.9,138.5 172.3,138.8 173.6,139.2 175.0,139.8 176.3,140.1 177.7,141.4 179.0,141.7 180.4,141.9 181.8,142.1 183.1,142.8 184.5,143.6 185.8,143.9 187.2,144.8 188.6,144.4 189.9,145.7 191.3,145.5 192.6,145.6 194.0,146.1 195.3,147.3 196.7,147.1 198.1,147.6 199.4,148.0 200.8,147.7 202.1,148.5 203.5,149.5 204.9,149.7 206.2,149.4 207.6,149.9 208.9,150.7 210.3,151.2 211.7,151.2 213.0,151.5 214.4,151.4 215.7,152.1 217.1,152.0 218.4,152.1 219.8,153.4 221.2,153.3 222.5,152.9 223.9,153.8 225.2,153.9 226.6,153.9 228.0,154.7 229.3,154.9 230.7,155.5 232.0,155.0 233.4,155.6 234.8,155.8 236.1,156.8 237.5,155.9 238.8,156.2 240.2,156.9 241.5,156.5 242.9,157.9 244.3,157.3 245.6,158.1 247.0,156.8 248.3,158.8 249.7,158.5 251.1,158.6 252.4,158.2 253.8,158.4 255.1,158.7 256.5,159.1 257.9,158.5 259.2,159.7 260.6,159.5 261.9,159.2 263.3,160.3 264.6,160.4 266.0,159.9 267.4,160.3 268.7,161.0 270.1,160.7 271.4,160.2 272.8,161.1 274.2,160.9 275.5,161.3 276.9,161.7 278.2,161.0 279.6,161.4 280.9,161.5 282.3,162.0 283.7,162.1 285.0,162.2 286.4,162.2 287.7,162.6 289.1,162.8 290.5,162.3 291.8,163.2 293.2,163.1 294.5,163.2 295.9,163.3 297.3,163.7 298.6,163.6 300.0,163.2 301.3,163.7 302.7,163.9 304.0,163.2 305.4,164.3 306.8,163.6 308.1,164.0 309.5,164.6 310.8,164.4 312.2,164.5 313.6,164.0 314.9,164.2 316.3,164.7 317.6,165.1 319.0,165.3 320.4,164.9 321.7,165.4 321.9,161.9 322.6,153.8 323.3,147.3 324.0,141.9 324.7,137.5 325.3,133.9 326.0,130.9 326.7,128.5 327.4,126.6 328.0,124.9 328.7,123.6 329.4,122.5 330.1,121.6 330.8,120.9"/>
<polyline stroke="#1b9ad6" points="124.7,114.3 126.1,115.3 127.4,116.5 128.8,117.5 130.1,117.8 131.5,118.6 132.8,119.6 134.2,120.6 135.6,120.7 136.9,122.0 138.3,123.0 139.6,123.5 141.0,124.6 142.4,125.1 143.7,125.9 145.1,126.6 146.4,127.5 147.8,128.3 149.2,128.7 150.5,129.2 151.9,130.5 153.2,131.1 154.6,131.9 155.9,131.9 157.3,132.9 158.7,133.1 160.0,134.3 161.4,134.4 162.7,135.4 164.1,136.0 165.5,136.2 166.8,137.1 168.2,137.7 169.5,137.7 170.9,138.6 172.3,138.7 173.6,138.8 175.0,140.3 176.3,140.7 177.7,141.6 179.0,142.0 180.4,141.8 181.8,142.4 183.1,142.9 184.5,143.3 185.8,144.1 187.2,144.9 188.6,144.4 189.9,145.1 191.3,145.2 192.6,146.0 194.0,146.1 195.3,146.9 196.7,147.2 198.1,147.6 199.4,147.8 200.8,147.8 202.1,148.4 203.5,150.0 204.9,149.4 206.2,149.7 207.6,149.8 208.9,150.3 210.3,150.9 211.7,151.3 213.0,151.5 214.4,151.9 215.7,151.5 217.1,152.1 218.4,152.5 219.8,152.5 221.2,152.4 222.5,153.5 223.9,153.7 225.2,154.1 226.6,154.6 228.0,154.7 229.3,155.1 230.7,154.8 232.0,155.1 233.4,155.2 234.8,156.0 236.1,155.7 237.5,156.5 238.8,156.5 240.2,156.2 241.5,156.5 242.9,156.7 244.3,156.6 245.6,157.2 247.0,157.8 248.3,158.0 249.7,158.4 251.1,158.2 252.4,158.8 253.8,158.9 255.1,159.2 256.5,159.6 257.9,158.4 259.2,159.1 260.6,160.3 261.9,159.6 263.3,160.1 264.6,160.8 266.0,160.3 267.4,160.3 268.7,160.4 270.1,160.4 271.4,161.1 272.8,161.0 274.2,160.9 275.5,161.1 276.9,161.3 278.2,161.6 279.6,161.3 280.9,162.3 282.3,162.5 283.7,161.5 285.0,162.1 286.4,162.0 287.7,162.4 289.1,162.7 290.5,162.9 291.8,162.8 293.2,163.1 294.5,163.1 295.9,163.2 297.3,163.0 298.6,163.1 300.0,163.0 301.3,163.8 302.7,163.7 304.0,163.5 305.4,163.8 306.8,164.8 308.1,163.9 309.5,164.2 310.8,164.4 312.2,164.5 313.6,164.7 314.9,164.1 316.3,164.4 317.6,164.6 319.0,164.4 320.4,164.5 321.7,165.2 321.9,161.9 322.6,153.9 323.3,147.3 324.0,141.9 324.7,137.5 325.3,133.9 326.0,131.0 326.7,128.6 327.4,126.6 328.0,125.0 328.7,123.6 329.4,122.5 330.1,121.7 330.8,120.9"/>
<polyline stroke="#1b9ad6" points="124.7,114.2 126.1,115.6 127.4,116.4 128.8,117.8 130.1,118.4 131.5,118.9 132.8,120.2 134.2,120.6 135.6,121.7 136.9,122.2 138.3,123.3 139.6,124.4 141.0,124.7 142.4,125.3 143.7,126.4 145.1,126.9 146.4,128.0 147.8,128.6 149.2,128.8 150.5,129.9 151.9,130.8 153.2,131.0 154.6,131.8 155.9,132.7 157.3,132.9 158.7,134.7 160.0,134.2 161.4,134.4 162.7,135.5 164.1,136.8 165.5,136.3 166.8,136.5 168.2,137.7 169.5,138.8 170.9,139.2 172.3,139.6 173.6,140.0 175.0,140.2 176.3,140.9 177.7,142.3 179.0,142.2 180.4,142.6 181.8,142.5 183.1,143.7 184.5,144.4 185.8,144.5 187.2,144.8 188.6,145.9 189.9,145.4 191.3,146.2 192.6,146.3 194.0,146.8 195.3,147.3 196.7,147.4 198.1,147.7 199.4,148.7 200.8,149.0 202.1,149.0 203.5,149.7 204.9,150.3 206.2,150.4 207.6,151.1 208.9,151.3 210.3,152.6 211.7,151.7 213.0,151.5 214.4,152.2 215.7,152.5 217.1,153.0 218.4,153.6 219.8,153.5 221.2,153.9 222.5,154.3 223.9,154.4 225.2,155.0 226.6,155.0 228.0,155.1 229.3,155.3 230.7,155.8 232.0,155.9 233.4,156.3 234.8,157.4 236.1,157.5 237.5,157.2 238.8,157.7 240.2,157.4 241.5,158.2 242.9,158.2 244.3,158.4 245.6,158.7 247.0,158.8 248.3,158.9 249.7,159.0 251.1,159.4 252.4,159.4 253.8,159.5 255.1,159.9 256.5,160.3 257.9,160.4 259.2,160.6 260.6,160.7 261.9,160.7 263.3,160.1 264.6,160.7 266.0,161.2 267.4,161.2 268.7,161.4 270.1,161.3 271.4,161.4 272.8,162.3 274.2,161.4 275.5,162.6 276.9,162.4 278.2,162.9 279.6,163.3 280.9,163.4 282.3,162.4 283.7,162.6 285.0,163.6 286.4,163.7 287.7,163.0 289.1,163.9 290.5,163.6 291.8,163.2 293.2,163.7 294.5,163.6 295.9,164.1 297.3,164.8 298.6,164.7 300.0,165.1 301.3,164.5 302.7,165.1 304.0,164.8 305.4,165.1 306.8,165.2 308.1,164.9 309.5,165.4 310.8,165.6 312.2,165.1 313.6,165.5 314.9,166.0 316.3,165.3 317.6,166.2 319.0,165.7 320.4,165.7 321.7,166.1 321.9,162.9 322.6,154.8 323.3,148.2 324.0,142.8 324.7,138.3 325.3,134.7 326.0,131.7 326.7,129.3 327.4,127.3 328.0,125.7 328.7,124.3 329.4,123.2 330.1,122.3 330.8,121.6"/>
<polyline stroke="#1b9ad6" points="126.1,115.4 127.4,116.1 128.8,117.5 130.1,118.0 131.5,119.1 132.8,119.4 134.2,120.9 135.6,121.5 136.9,122.6 138.3,123.0 139.6,123.8 141.0,125.1 142.4,124.9 143.7,126.1 145.1,127.5 146.4,128.0 147.8,129.1 149.2,129.8 150.5,129.9 151.9,131.2 153.2,131.1 154.6,132.4 155.9,132.7 157.3,132.6 158.7,133.9 160.0,134.5 161.4,134.7 162.7,135.8 164.1,136.1 165.5,137.1 166.8,137.5 168.2,137.9 169.5,138.5 170.9,139.3 172.3,139.5 173.6,139.9 175.0,140.5 176.3,141.2 177.7,142.0 179.0,142.0 180.4,142.4 181.8,143.5 183.1,144.4 184.5,144.1 185.8,144.2 187.2,144.7 188.6,145.8 189.9,145.4 191.3,146.6 192.6,146.4 194.0,147.3 195.3,147.2 196.7,147.8 198.1,148.4 199.4,148.5 200.8,149.3 202.1,149.6 203.5,150.0 204.9,150.5 206.2,150.3 207.6,150.6 208.9,151.3 210.3,151.9 211.7,151.8 213.0,152.2 214.4,152.4 215.7,152.9 217.1,153.3 218.4,153.1 219.8,154.0 221.2,154.2 222.5,155.0 223.9,154.8 225.2,155.1 226.6,155.4 228.0,155.3 229.3,156.0 230.7,155.9 232.0,156.4 233.4,156.7 234.8,157.4 236.1,156.9 237.5,157.1 238.8,157.9 240.2,158.0 241.5,158.6 242.9,158.3 244.3,158.8 245.6,158.5 247.0,158.9 248.3,158.9 249.7,159.6 251.1,160.0 252.4,159.7 253.8,160.1 255.1,159.5 256.5,160.2 257.9,160.0 259.2,160.4 260.6,160.9 261.9,161.5 263.3,161.2 264.6,161.1 266.0,161.4 267.4,161.5 268.7,161.7 270.1,162.4 271.4,162.0 272.8,162.5 274.2,162.4 275.5,162.1 276.9,163.3 278.2,162.9 279.6,162.9 280.9,162.7 282.3,163.2 283.7,163.6 285.0,163.2 286.4,163.4 287.7,164.3 289.1,163.8 290.5,164.5 291.8,165.0 293.2,164.5 294.5,164.6 295.9,165.1 297.3,163.9 298.6,165.1 300.0,164.6 301.3,164.6 302.7,164.2 304.0,165.2 305.4,164.6 306.8,165.6 308.1,165.3 309.5,165.6 310.8,165.8 312.2,165.5 313.6,165.1 314.9,165.1 316.3,165.6 317.6,166.3 319.0,166.3 320.4,165.9 321.7,166.0 321.9,163.1 322.6,155.0 323.3,148.4 324.0,142.9 324.7,138.5 325.3,134.9 326.0,131.9 326.7,129.4 327.4,127.4 328.0,125.8 328.7,124.5 329.4,123.4 330.1,122.5 330.8,121.7"/>
<polyline stroke="#1b9ad6" points="43.48,35.18 44.89,35.27 46.29,35.35 47.70,35.35 49.10,35.43 50.50,35.43 51.91,35.57 53.31,35.57 54.72,35.60 56.12,35.63 57.52,35.69 58.93,35.87 60.33,35.93 61.74,35.93 63.14,36.03 64.54,36.15 65.95,36.05 67.35,36.15 68.76,36.18 70.16,36.27 71.56,36.29 72.97,36.39 74.37,36.45 75.78,36.43 77.18,36.61 78.58,36.60 79.99,36.74 81.39,36.68 82.80,36.80 84.20,36.90 84.31,39.70 84.82,48.10 85.32,52.83 85.82,56.07 86.33,58.58 86.83,60.65 87.34,62.25 87.84,64.13 88.34,65.81 88.85,67.26 89.35,68.71 89.86,70.06 90.42,71.71 91.58,74.68 92.73,77.26 93.88,79.87 95.04,82.07 96.19,84.23 97.35,86.14 98.50,88.20 99.66,89.96 100.81,91.50 101.97,93.04 103.12,94.80 104.28,96.13 105.43,97.34 106.58,98.72 107.74,99.51 108.89,100.97 110.05,102.03 111.20,103.39 112.36,104.44 113.51,105.48 114.67,106.30 115.82,107.59 116.98,108.13 118.1,109.6 119.3,110.1 120.6,111.3 122.0,112.5 123.3,113.0 124.7,114.2 126.1,115.4 127.4,116.6 128.8,117.0 130.1,118.4 131.5,118.9 132.8,120.2 134.2,120.8 135.6,121.9 136.9,122.5 138.3,122.7 139.6,123.5 141.0,125.0 142.4,125.7 143.7,127.0 145.1,127.1 146.4,127.5 147.8,128.9 149.2,129.6 150.5,129.9 151.9,130.9 153.2,131.4 154.6,131.6 155.9,132.6 157.3,133.2 158.7,133.4 160.0,134.6 161.4,135.0 162.7,135.9 164.1,136.7 165.5,136.5 166.8,138.1 168.2,138.2 169.5,139.2 170.9,139.6 172.3,140.3 173.6,140.5 175.0,140.8 176.3,141.0 177.7,142.6 179.0,142.4 180.4,143.1 181.8,143.7 183.1,144.0 184.5,144.3 185.8,144.9 187.2,145.3 188.6,145.1 189.9,146.2 191.3,146.5 192.6,147.5 194.0,147.1 195.3,148.1 196.7,148.4 198.1,149.0 199.4,149.1 200.8,149.8 202.1,150.3 203.5,150.7 204.9,150.8 206.2,151.0 207.6,151.1 208.9,151.1 210.3,151.4 211.7,152.6 213.0,152.9 214.4,152.8 215.7,153.6 217.1,153.3 218.4,153.6 219.8,154.6 221.2,154.3 222.5,154.4 223.9,155.0 225.2,155.5 226.6,155.8 228.0,155.8 229.3,156.5 230.7,156.4 232.0,156.9 233.4,157.3 234.8,157.6 236.1,157.4 237.5,158.1 238.8,158.0 240.2,158.9 241.5,158.6 242.9,158.7 244.3,158.8 245.6,158.8 247.0,159.2 248.3,159.4 249.7,159.9 251.1,160.3 252.4,160.6 253.8,160.6 255.1,160.5 256.5,160.4 257.9,160.8 259.2,161.1 260.6,161.1 261.9,161.6 263.3,161.6 264.6,161.9 266.0,161.9 267.4,162.2 268.7,162.7 270.1,162.6 271.4,162.9 272.8,162.2 274.2,162.5 275.5,163.3 276.9,163.5 278.2,163.4 279.6,164.0 280.9,163.2 282.3,163.8 283.7,164.1 285.0,163.7 286.4,163.7 287.7,164.2 289.1,164.1 290.5,165.1 291.8,164.9 293.2,165.0 294.5,165.4 295.9,164.7 297.3,164.3 298.6,165.6 300.0,165.5 301.3,165.1 302.7,165.6 304.0,165.6 305.4,166.0 306.8,165.7 308.1,166.2 309.5,165.8 310.8,165.9 312.2,166.1 313.6,166.5 314.9,166.4 316.3,166.3 317.6,166.8 319.0,166.9 320.4,167.4 321.7,167.0 321.9,163.7 322.6,155.6 323.3,148.9 324.0,143.4 324.7,139.0 325.3,135.3 326.0,132.3 326.7,129.9 327.4,127.9 328.0,126.2 328.7,124.9 329.4,123.8 330.1,122.9 330.8,122.1"/>
<polyline stroke="#1b9ad6" points="127.4,116.2 128.8,117.2 130.1,118.4 131.5,118.8 132.8,120.0 134.2,120.2 135.6,121.5 136.9,122.5 138.3,122.6 139.6,123.8 141.0,125.0 142.4,126.0 143.7,125.9 145.1,126.9 146.4,127.6 147.8,128.9 149.2,129.7 150.5,130.5 151.9,130.5 153.2,131.6 154.6,132.0 155.9,133.6 157.3,133.2 158.7,134.5 160.0,135.8 161.4,135.9 162.7,136.0 164.1,136.2 165.5,138.2 166.8,138.4 168.2,138.4 169.5,139.6 170.9,139.8 172.3,140.5 173.6,140.7 175.0,141.7 176.3,141.9 177.7,142.6 179.0,142.8 180.4,143.3 181.8,143.5 183.1,144.2 184.5,144.2 185.8,145.8 187.2,145.8 188.6,145.9 189.9,146.6 191.3,147.9 192.6,147.4 194.0,148.1 195.3,147.5 196.7,148.8 198.1,148.9 199.4,149.9 200.8,149.7 202.1,151.2 203.5,151.0 204.9,151.2 206.2,152.0 207.6,151.5 208.9,152.2 210.3,152.0 211.7,153.3 213.0,153.5 214.4,153.3 215.7,154.0 217.1,153.9 218.4,154.3 219.8,155.0 221.2,155.1 222.5,155.2 223.9,155.6 225.2,156.0 226.6,156.4 228.0,156.6 229.3,156.5 230.7,156.4 232.0,157.8 233.4,157.9 234.8,157.9 236.1,157.6 237.5,158.6 238.8,157.8 240.2,158.1 241.5,159.9 242.9,159.1 244.3,159.3 245.6,159.9 247.0,160.6 248.3,160.1 249.7,160.5 251.1,160.2 252.4,160.6 253.8,161.3 255.1,160.5 256.5,160.8 257.9,161.1 259.2,161.7 260.6,161.6 261.9,162.1 263.3,162.5 264.6,163.1 266.0,162.5 267.4,163.4 268.7,162.7 270.1,163.5 271.4,163.2 272.8,163.5 274.2,163.9 275.5,164.0 276.9,164.0 278.2,163.5 279.6,164.0 280.9,164.4 282.3,164.1 283.7,164.9 285.0,165.2 286.4,165.1 287.7,164.6 289.1,165.1 290.5,165.1 291.8,165.3 293.2,165.5 294.5,165.1 295.9,165.4 297.3,166.0 298.6,166.2 300.0,166.0 301.3,166.4 302.7,166.2 304.0,166.0 305.4,166.4 306.8,166.4 308.1,166.7 309.5,166.9 310.8,167.1 312.2,166.4 313.6,167.2 314.9,167.0 316.3,167.1 317.6,167.0 319.0,167.4 320.4,167.9 321.7,166.7 321.9,164.3 322.6,156.1 323.3,149.4 324.0,144.0 324.7,139.5 325.3,135.8 326.0,132.8 326.7,130.3 327.4,128.3 328.0,126.7 328.7,125.3 329.4,124.2 330.1,123.3 330.8,122.6"/>
<polyline stroke="#1b9ad6" points="127.4,116.7 128.8,117.1 130.1,118.2 131.5,119.5 132.8,119.9 134.2,121.0 135.6,121.7 136.9,122.7 138.3,123.6 139.6,124.6 141.0,125.0 142.4,125.8 143.7,126.4 145.1,127.6 146.4,127.9 147.8,128.5 149.2,129.9 150.5,130.1 151.9,130.2 153.2,131.8 154.6,132.4 155.9,133.0 157.3,133.8 158.7,134.0 160.0,134.9 161.4,135.6 162.7,136.4 164.1,136.6 165.5,137.4 166.8,138.1 168.2,138.6 169.5,138.5 170.9,139.6 172.3,140.1 173.6,140.3 175.0,141.3 176.3,141.5 177.7,142.7 179.0,142.6 180.4,144.0 181.8,143.8 183.1,144.5 184.5,145.0 185.8,144.9 187.2,145.5 188.6,145.9 189.9,146.1 191.3,146.9 192.6,147.3 194.0,148.0 195.3,147.7 196.7,148.5 198.1,149.4 199.4,149.9 200.8,150.2 202.1,150.6 203.5,150.3 204.9,151.0 206.2,151.1 207.6,152.1 208.9,152.5 210.3,152.1 211.7,153.6 213.0,153.6 214.4,154.3 215.7,154.1 217.1,153.3 218.4,154.8 219.8,154.5 221.2,154.6 222.5,155.7 223.9,156.0 225.2,155.9 226.6,156.1 228.0,157.1 229.3,157.1 230.7,156.6 232.0,157.7 233.4,157.5 234.8,157.6 236.1,158.3 237.5,158.5 238.8,158.8 240.2,159.1 241.5,159.3 242.9,159.9 244.3,159.8 245.6,159.9 247.0,159.8 248.3,160.4 249.7,160.7 251.1,160.0 252.4,160.9 253.8,161.1 255.1,161.4 256.5,161.4 257.9,161.9 259.2,162.0 260.6,162.3 261.9,162.6 263.3,162.5 264.6,163.0 266.0,162.1 267.4,163.2 268.7,162.4 270.1,163.1 271.4,163.0 272.8,163.0 274.2,164.2 275.5,163.2 276.9,163.8 278.2,164.2 279.6,164.5 280.9,164.2 282.3,165.0 283.7,164.0 285.0,164.8 286.4,164.6 287.7,164.9 289.1,165.2 290.5,165.4 291.8,165.6 293.2,165.0 294.5,165.6 295.9,165.5 297.3,165.6 298.6,165.7 300.0,165.9 301.3,165.7 302.7,166.4 304.0,166.6 305.4,166.4 306.8,166.6 308.1,166.6 309.5,166.3 310.8,166.5 312.2,166.7 313.6,167.2 314.9,166.9 316.3,167.1 317.6,167.0 319.0,167.3 320.4,167.5 321.7,167.4 321.9,164.4 322.6,156.2 323.3,149.5 324.0,144.0 324.7,139.5 325.3,135.8 326.0,132.8 326.7,130.4 327.4,128.4 328.0,126.7 328.7,125.3 329.4,124.2 330.1,123.3 330.8,122.6"/>
<polyline stroke="#1b9ad6" points="127.4,116.1 128.8,117.8 130.1,118.1 131.5,119.3 132.8,120.5 134.2,120.6 135.6,121.7 136.9,122.9 138.3,123.4 139.6,124.5 141.0,125.4 142.4,126.1 143.7,126.4 145.1,128.0 146.4,128.7 147.8,128.7 149.2,130.2 150.5,130.5 151.9,131.2 153.2,132.2 154.6,132.7 155.9,133.2 157.3,133.9 158.7,134.3 160.0,135.1 161.4,135.5 162.7,136.3 164.1,137.1 165.5,137.4 166.8,138.0 168.2,138.5 169.5,139.4 170.9,140.0 172.3,140.5 173.6,141.5 175.0,141.4 176.3,142.3 177.7,142.9 179.0,143.3 180.4,143.0 181.8,144.4 183.1,144.2 184.5,145.8 185.8,145.7 187.2,145.4 188.6,146.5 189.9,146.9 191.3,147.6 192.6,148.5 194.0,148.1 195.3,148.4 196.7,148.8 198.1,148.9 199.4,150.0 200.8,150.2 202.1,151.5 203.5,151.3 204.9,151.5 206.2,151.5 207.6,151.7 208.9,152.1 210.3,152.8 211.7,153.4 213.0,153.7 214.4,154.0 215.7,154.3 217.1,154.3 218.4,155.1 219.8,155.9 221.2,156.0 222.5,155.0 223.9,155.8 225.2,156.7 226.6,156.9 228.0,156.8 229.3,157.3 230.7,157.5 232.0,158.6 233.4,158.6 234.8,158.4 236.1,158.5 237.5,158.8 238.8,158.7 240.2,159.4 241.5,159.6 242.9,159.9 244.3,159.8 245.6,160.5 247.0,159.9 248.3,161.1 249.7,160.7 251.1,161.0 252.4,160.9 253.8,162.0 255.1,162.1 256.5,162.1 257.9,161.9 259.2,162.1 260.6,163.4 261.9,162.8 263.3,162.8 264.6,163.0 266.0,163.1 267.4,163.5 268.7,163.5 270.1,164.4 271.4,163.6 272.8,164.9 274.2,164.3 275.5,164.7 276.9,164.4 278.2,165.0 279.6,164.5 280.9,164.8 282.3,164.9 283.7,164.9 285.0,165.0 286.4,165.5 287.7,165.3 289.1,165.6 290.5,165.6 291.8,165.9 293.2,166.9 294.5,166.3 295.9,166.3 297.3,166.6 298.6,166.8 300.0,166.6 301.3,167.0 302.7,166.6 304.0,166.5 305.4,167.0 306.8,166.9 308.1,167.6 309.5,167.7 310.8,167.5 312.2,167.8 313.6,167.6 314.9,167.7 316.3,167.3 317.6,168.0 319.0,167.5 320.4,168.4 321.7,168.2 321.9,165.0 322.6,156.7 323.3,150.0 324.0,144.5 324.7,140.0 325.3,136.3 326.0,133.3 326.7,130.8 327.4,128.8 328.0,127.1 328.7,125.7 329.4,124.6 330.1,123.7 330.8,123.0"/>
<polyline stroke="#1b9ad6" points="128.8,117.5 130.1,118.8 131.5,119.4 132.8,120.1 134.2,121.2 135.6,122.0 136.9,123.2 138.3,123.6 139.6,124.7 141.0,125.7 142.4,126.4 143.7,127.3 145.1,128.0 146.4,128.9 147.8,128.9 149.2,129.9 150.5,130.8 151.9,131.5 153.2,132.4 154.6,132.8 155.9,133.8 157.3,134.5 158.7,135.4 160.0,135.4 161.4,136.1 162.7,136.7 164.1,137.4 165.5,139.1 166.8,138.9 168.2,139.2 169.5,140.0 170.9,141.3 172.3,141.2 173.6,141.7 175.0,142.7 176.3,143.4 177.7,143.8 179.0,145.1 180.4,144.6 181.8,145.5 183.1,145.8 184.5,146.3 185.8,146.7 187.2,146.7 188.6,148.0 189.9,148.2 191.3,149.3 192.6,149.3 194.0,150.2 195.3,149.8 196.7,150.4 198.1,151.1 199.4,151.0 200.8,152.1 202.1,152.2 203.5,152.8 204.9,153.2 206.2,153.4 207.6,153.9 208.9,154.1 210.3,154.8 211.7,155.3 213.0,154.7 214.4,155.4 215.7,156.0 217.1,156.2 218.4,156.9 219.8,156.8 221.2,157.7 222.5,157.4 223.9,157.7 225.2,158.2 226.6,158.2 228.0,158.8 229.3,158.5 230.7,159.1 232.0,160.1 233.4,160.2 234.8,159.6 236.1,160.6 237.5,160.6 238.8,161.1 240.2,160.7 241.5,161.1 242.9,161.4 244.3,162.0 245.6,162.2 247.0,161.9 248.3,162.8 249.7,163.5 251.1,162.5 252.4,162.9 253.8,163.9 255.1,163.6 256.5,163.7 257.9,164.0 259.2,163.7 260.6,164.0 261.9,164.9 263.3,164.8 264.6,164.7 266.0,164.8 267.4,165.4 268.7,165.1 270.1,165.9 271.4,165.5 272.8,166.5 274.2,166.0 275.5,165.6 276.9,165.9 278.2,166.9 279.6,167.7 280.9,166.8 282.3,166.7 283.7,167.1 285.0,167.2 286.4,167.9 287.7,167.7 289.1,168.1 290.5,168.2 291.8,168.1 293.2,167.6 294.5,168.0 295.9,168.5 297.3,168.5 298.6,168.8 300.0,168.8 301.3,168.7 302.7,169.3 304.0,168.8 305.4,169.2 306.8,168.8 308.1,169.5 309.5,169.3 310.8,169.7 312.2,169.4 313.6,170.2 314.9,169.9 316.3,170.1 317.6,170.4 319.0,170.1 320.4,170.1 321.7,170.3 321.9,166.9 322.6,158.6 323.3,151.7 324.0,146.1 324.7,141.6 325.3,137.8 326.0,134.7 326.7,132.2 327.4,130.2 328.0,128.5 328.7,127.1 329.4,126.0 330.1,125.0 330.8,124.3"/>
<polyline stroke="#1b9ad6" points="130.1,118.9 131.5,119.5 132.8,120.0 134.2,121.6 135.6,122.2 136.9,123.6 138.3,123.9 139.6,125.1 141.0,125.5 142.4,126.9 143.7,127.3 145.1,128.5 146.4,128.9 147.8,129.5 149.2,129.7 150.5,131.0 151.9,131.8 153.2,132.0 154.6,133.0 155.9,134.4 157.3,134.6 158.7,135.4 160.0,135.9 161.4,136.6 162.7,138.0 164.1,138.3 165.5,138.2 166.8,139.1 168.2,140.3 169.5,140.8 170.9,141.3 172.3,142.3 173.6,143.5 175.0,142.8 176.3,143.9 177.7,144.3 179.0,144.9 180.4,145.3 181.8,145.9 183.1,145.8 184.5,146.9 185.8,147.1 187.2,147.8 188.6,147.9 189.9,148.8 191.3,149.9 192.6,149.2 194.0,149.7 195.3,150.5 196.7,151.6 198.1,151.1 199.4,151.9 200.8,152.7 202.1,153.0 203.5,152.9 204.9,153.9 206.2,154.1 207.6,154.7 208.9,154.7 210.3,155.5 211.7,155.4 213.0,156.1 214.4,155.7 215.7,156.9 217.1,157.0 218.4,157.1 219.8,157.4 221.2,158.6 222.5,158.3 223.9,158.6 225.2,158.8 226.6,159.4 228.0,159.1 229.3,159.5 230.7,160.3 232.0,160.9 233.4,160.8 234.8,160.9 236.1,161.0 237.5,162.0 238.8,162.1 240.2,162.8 241.5,162.7 242.9,162.2 244.3,162.2 245.6,162.8 247.0,163.4 248.3,163.6 249.7,163.1 251.1,163.6 252.4,164.1 253.8,164.6 255.1,164.9 256.5,164.8 257.9,164.4 259.2,165.3 260.6,165.5 261.9,165.5 263.3,165.9 264.6,165.7 266.0,166.5 267.4,166.3 268.7,166.7 270.1,166.4 271.4,166.8 272.8,167.3 274.2,167.3 275.5,167.3 276.9,167.0 278.2,167.5 279.6,167.7 280.9,168.3 282.3,168.6 283.7,168.7 285.0,168.6 286.4,168.4 287.7,168.6 289.1,168.4 290.5,169.2 291.8,169.1 293.2,169.2 294.5,169.6 295.9,170.1 297.3,169.8 298.6,169.3 300.0,170.3 301.3,169.5 302.7,169.6 304.0,170.1 305.4,170.0 306.8,170.3 308.1,170.3 309.5,169.9 310.8,170.1 312.2,170.3 313.6,170.6 314.9,170.8 316.3,170.8 317.6,171.4 319.0,171.3 320.4,171.1 321.7,171.8 321.9,168.0 322.6,159.6 323.3,152.7 324.0,147.0 324.7,142.4 325.3,138.6 326.0,135.5 326.7,133.0 327.4,130.9 328.0,129.2 328.7,127.8 329.4,126.7 330.1,125.8 330.8,125.0"/>
<polyline stroke="#1b9ad6" points="43.48,35.20 44.89,35.26 46.29,35.32 47.70,35.38 49.10,35.46 50.50,35.40 51.91,35.62 53.31,35.63 54.72,35.73 56.12,35.70 57.52,35.74 58.93,35.76 60.33,35.92 61.74,35.92 63.14,36.04 64.54,36.06 65.95,36.09 67.35,36.23 68.76,36.24 70.16,36.31 71.56,36.33 72.97,36.37 74.37,36.51 75.78,36.52 77.18,36.63 78.58,36.72 79.99,36.73 81.39,36.77 82.80,36.85 84.20,36.90 84.31,39.58 84.82,48.09 85.32,52.87 85.82,56.03 86.33,58.51 86.83,60.43 87.34,62.37 87.84,64.10 88.34,65.77 88.85,67.29 89.35,68.73 89.86,70.17 90.42,71.69 91.58,74.61 92.73,77.45 93.88,79.90 95.04,82.18 96.19,84.34 97.35,86.44 98.50,88.19 99.66,90.05 100.81,91.49 101.97,93.31 103.12,94.67 104.28,96.43 105.43,97.53 106.58,98.65 107.74,100.07 108.89,101.18 110.05,102.43 111.20,103.66 112.36,104.61 113.51,105.69 114.67,106.74 115.82,107.97 116.98,108.94 118.1,110.4 119.3,110.7 120.6,112.1 122.0,113.1 123.3,113.7 124.7,114.9 126.1,115.9 127.4,117.2 128.8,117.8 130.1,118.9 131.5,119.7 132.8,120.8 134.2,121.1 135.6,122.9 136.9,123.3 138.3,124.2 139.6,124.8 141.0,125.8 142.4,126.9 143.7,127.5 145.1,127.9 146.4,128.8 147.8,130.0 149.2,130.6 150.5,131.5 151.9,131.7 153.2,133.1 154.6,133.2 155.9,133.8 157.3,135.1 158.7,135.0 160.0,136.5 161.4,137.2 162.7,137.5 164.1,138.6 165.5,139.0 166.8,140.1 168.2,140.5 169.5,140.9 170.9,142.0 172.3,141.9 173.6,142.5 175.0,143.4 176.3,143.7 177.7,144.3 179.0,145.3 180.4,145.4 181.8,146.1 183.1,146.9 184.5,147.1 185.8,148.1 187.2,149.2 188.6,148.6 189.9,149.1 191.3,149.1 192.6,150.3 194.0,150.4 195.3,151.4 196.7,151.9 198.1,152.1 199.4,152.4 200.8,152.9 202.1,153.0 203.5,153.4 204.9,154.6 206.2,154.7 207.6,154.4 208.9,154.9 210.3,156.1 211.7,156.4 213.0,155.8 214.4,157.2 215.7,156.8 217.1,158.2 218.4,158.0 219.8,158.6 221.2,158.5 222.5,158.5 223.9,159.1 225.2,159.2 226.6,159.5 228.0,159.6 229.3,160.4 230.7,161.4 232.0,161.6 233.4,161.1 234.8,161.4 236.1,161.6 237.5,162.3 238.8,162.6 240.2,163.4 241.5,163.4 242.9,163.3 244.3,163.7 245.6,164.3 247.0,163.5 248.3,164.2 249.7,164.4 251.1,164.7 252.4,164.9 253.8,165.5 255.1,165.1 256.5,165.7 257.9,166.1 259.2,165.5 260.6,166.1 261.9,166.1 263.3,167.2 264.6,166.1 266.0,167.2 267.4,167.5 268.7,167.4 270.1,167.7 271.4,167.9 272.8,167.6 274.2,167.4 275.5,168.1 276.9,168.2 278.2,168.3 279.6,168.5 280.9,169.1 282.3,168.2 283.7,169.4 285.0,169.3 286.4,168.5 287.7,169.4 289.1,169.8 290.5,169.6 291.8,169.0 293.2,169.8 294.5,170.3 295.9,170.0 297.3,170.1 298.6,170.6 300.0,170.3 301.3,171.3 302.7,170.5 304.0,170.7 305.4,170.8 306.8,171.2 308.1,170.6 309.5,170.9 310.8,170.8 312.2,171.5 313.6,171.2 314.9,170.9 316.3,171.1 317.6,172.0 319.0,171.8 320.4,172.1 321.7,172.0 321.9,168.7 322.6,160.2 323.3,153.3 324.0,147.6 324.7,143.0 325.3,139.2 326.0,136.1 326.7,133.5 327.4,131.4 328.0,129.7 328.7,128.3 329.4,127.2 330.1,126.2 330.8,125.5"/>
<polyline stroke="#1b9ad6" stroke-width="0.5" points="115.82,107.12 116.98,107.81 118.1,108.6 119.3,109.6 120.6,110.9 122.0,112.1 123.3,112.6 124.7,113.3 126.1,114.6 127.4,115.3 128.8,115.6 130.1,117.2 131.5,116.4 132.8,118.3 134.2,119.6 135.6,119.8 136.9,120.8 138.3,121.0 139.6,122.6 141.0,122.6 142.4,123.9 143.7,124.1 145.1,124.3 146.4,125.4 147.8,125.6 149.2,126.8 150.5,127.0 151.9,128.1 153.2,128.5 154.6,129.0 155.9,130.1 157.3,130.4 158.7,130.8 160.0,130.6 161.4,131.6 162.7,132.5 164.1,133.0 165.5,133.2 166.8,134.0 168.2,134.0 169.5,134.9 170.9,135.3 172.3,135.1 173.6,136.4 175.0,135.4 176.3,136.9 177.7,137.5 179.0,137.2 180.4,137.4 181.8,137.7 183.1,138.3 184.5,139.1 185.8,139.3 187.2,139.5 188.6,139.6 189.9,139.9 191.3,140.3 192.6,140.6 194.0,142.0 195.3,141.7 196.7,141.4 198.1,142.3 199.4,142.5 200.8,143.0 202.1,143.0 203.5,143.5 204.9,144.2 206.2,143.7 207.6,143.9 208.9,144.7 210.3,145.3 211.7,145.0 213.0,145.5 214.4,145.0 215.7,145.7 217.1,146.4 218.4,146.3 219.8,145.7 221.2,146.6 222.5,147.0 223.9,147.1 225.2,147.6 226.6,147.1 228.0,148.1 229.3,147.6 230.7,147.7 232.0,147.9 233.4,148.4 234.8,148.7 236.1,148.8 237.5,148.9 238.8,148.9 240.2,149.3 241.5,149.4 242.9,149.8 244.3,150.1 245.6,149.6 247.0,150.0 248.3,150.1 249.7,149.9 251.1,150.9 252.4,151.0 253.8,151.1 255.1,150.8 256.5,151.8 257.9,151.7 259.2,151.3 260.6,152.3 261.9,151.6 263.3,151.5 264.6,152.0 266.0,152.6 267.4,152.6 268.7,152.9 270.1,152.7 271.4,152.5 272.8,152.6 274.2,153.8 275.5,153.5 276.9,153.2 278.2,153.6 279.6,154.4 280.9,153.6 282.3,153.6 283.7,153.9 285.0,154.0 286.4,153.8 287.7,154.7 289.1,154.5 290.5,154.3 291.8,153.4 293.2,154.9 294.5,154.5 295.9,154.3 297.3,154.7 298.6,154.8 300.0,154.7 301.3,155.9 302.7,155.2 304.0,155.6 305.4,155.0 306.8,155.5 308.1,155.6 309.5,155.7 310.8,156.3 312.2,155.6 313.6,156.6 314.9,156.2 316.3,156.3 317.6,156.0 319.0,156.4 320.4,156.7 321.7,156.3 321.9,153.7 322.6,146.2 323.3,140.1 324.0,135.1 324.7,131.0 325.3,127.6 326.0,124.8 326.7,122.6 327.4,120.7 328.0,119.2 328.7,118.0 329.4,117.0 330.1,116.2 330.8,115.5"/>
<polyline stroke="url(#g0)" stroke-width="0.55" points="113.51,104.81 114.67,106.05 115.82,107.07 116.98,107.63 118.1,109.0 119.3,109.7 120.6,110.8 122.0,111.9 123.3,112.4 124.7,113.7 126.1,114.4 127.4,114.9 128.8,115.6 130.1,117.2 131.5,117.9 132.8,118.7 134.2,119.6 135.6,119.6 136.9,120.5 138.3,121.3 139.6,122.4 141.0,122.6 142.4,123.5 143.7,124.2 145.1,124.7 146.4,125.1 147.8,126.1 149.2,126.8 150.5,127.6 151.9,127.5 153.2,128.3 154.6,129.7 155.9,129.5 157.3,129.9 158.7,131.1 160.0,131.6 161.4,131.4 162.7,132.2 164.1,133.0 165.5,133.1 166.8,133.5 168.2,134.3 169.5,134.7 170.9,134.9 172.3,135.4 173.6,135.3 175.0,135.8 176.3,136.5 177.7,137.2 179.0,137.6 180.4,138.4 181.8,138.2 183.1,138.6 184.5,139.1 185.8,139.0 187.2,139.2 188.6,140.4 189.9,140.1 191.3,140.5 192.6,141.1 194.0,141.4 195.3,141.1 196.7,141.6 198.1,141.5 199.4,142.6 200.8,143.0 202.1,143.1 203.5,143.0 204.9,143.2 206.2,143.3 207.6,144.3 208.9,144.8 210.3,144.3 211.7,144.6 213.0,144.9 214.4,144.9 215.7,145.8 217.1,146.3 218.4,145.5 219.8,146.2 221.2,146.6 222.5,146.5 223.9,146.3 225.2,147.1 226.6,146.9 228.0,147.5 229.3,147.2 230.7,147.9 232.0,147.8 233.4,148.4 234.8,148.4 236.1,148.7 237.5,149.1 238.8,149.1 240.2,149.1 241.5,149.5 242.9,149.8 244.3,149.7 245.6,149.6 247.0,150.2 248.3,150.6 249.7,150.7 251.1,150.6 252.4,150.4 253.8,151.3 255.1,150.8 256.5,151.3 257.9,151.6 259.2,151.7 260.6,151.4 261.9,152.0 263.3,151.6 264.6,151.6 266.0,152.5 267.4,152.8 268.7,153.0 270.1,152.5 271.4,153.1 272.8,153.1 274.2,153.3 275.5,152.8 276.9,153.1 278.2,153.3 279.6,154.1 280.9,153.9 282.3,153.8 283.7,153.9 285.0,153.9 286.4,153.7 287.7,154.1 289.1,154.1 290.5,154.5 291.8,154.7 293.2,154.8 294.5,154.8 295.9,155.3 297.3,155.1 298.6,155.1 300.0,155.3 301.3,155.3 302.7,155.9 304.0,155.6 305.4,155.5 306.8,155.3 308.1,155.7 309.5,155.9 310.8,156.1 312.2,156.0 313.6,156.2 314.9,155.9 316.3,156.4 317.6,156.1 319.0,156.6 320.4,156.9 321.7,156.9"/>
<polyline stroke="#1b9ad6" stroke-width="0.5" points="116.98,108.03 118.1,108.8 119.3,109.7 120.6,110.7 122.0,111.5 123.3,112.6 124.7,113.0 126.1,114.1 127.4,115.1 128.8,116.3 130.1,116.8 131.5,117.8 132.8,118.5 134.2,119.5 135.6,120.6 136.9,121.4 138.3,121.8 139.6,122.2 141.0,123.2 142.4,124.1 143.7,124.7 145.1,125.0 146.4,126.1 147.8,126.7 149.2,127.2 150.5,127.6 151.9,128.8 153.2,129.1 154.6,129.6 155.9,130.3 157.3,130.6 158.7,131.0 160.0,132.1 161.4,131.5 162.7,132.7 164.1,132.8 165.5,133.6 166.8,135.0 168.2,135.3 169.5,135.2 170.9,135.6 172.3,136.0 173.6,137.3 175.0,137.3 176.3,137.4 177.7,137.5 179.0,138.2 180.4,139.2 181.8,139.3 183.1,139.7 184.5,140.1 185.8,140.0 187.2,140.3 188.6,140.6 189.9,141.8 191.3,142.2 192.6,142.6 194.0,142.5 195.3,142.7 196.7,143.5 198.1,143.3 199.4,143.6 200.8,144.1 202.1,144.2 203.5,144.9 204.9,145.3 206.2,144.7 207.6,145.6 208.9,145.4 210.3,146.2 211.7,147.0 213.0,146.4 214.4,147.2 215.7,147.4 217.1,147.0 218.4,148.1 219.8,147.9 221.2,147.7 222.5,147.6 223.9,148.8 225.2,148.7 226.6,149.2 228.0,148.8 229.3,149.6 230.7,149.2 232.0,150.2 233.4,149.8 234.8,149.8 236.1,150.2 237.5,150.6 238.8,151.0 240.2,151.5 241.5,150.9 242.9,151.1 244.3,151.5 245.6,152.2 247.0,152.2 248.3,152.2 249.7,151.7 251.1,151.8 252.4,152.3 253.8,153.3 255.1,153.6 256.5,153.1 257.9,153.1 259.2,152.9 260.6,153.9 261.9,153.4 263.3,154.0 264.6,153.8 266.0,154.4 267.4,154.5 268.7,154.7 270.1,154.7 271.4,155.1 272.8,155.1 274.2,154.9 275.5,155.5 276.9,155.4 278.2,155.6 279.6,155.6 280.9,155.2 282.3,156.0 283.7,155.3 285.0,156.6 286.4,156.4 287.7,156.0 289.1,157.1 290.5,156.5 291.8,156.4 293.2,157.1 294.5,156.2 295.9,156.2 297.3,156.9 298.6,157.0 300.0,156.8 301.3,156.9 302.7,157.5 304.0,157.5 305.4,156.8 306.8,157.5 308.1,157.7 309.5,158.0 310.8,158.8 312.2,158.0 313.6,158.0 314.9,158.1 316.3,158.2 317.6,158.0 319.0,158.2 320.4,158.4 321.7,158.6 321.9,155.6 322.6,148.0 323.3,141.8 324.0,136.7 324.7,132.5 325.3,129.1 326.0,126.3 326.7,124.0 327.4,122.1 328.0,120.6 328.7,119.3 329.4,118.3 330.1,117.4 330.8,116.8"/>
<polyline stroke="url(#g1)" stroke-width="0.55" points="113.51,104.80 114.67,106.14 115.82,107.08 116.98,108.09 118.1,109.1 119.3,109.4 120.6,110.6 122.0,111.8 123.3,112.3 124.7,113.4 126.1,114.3 127.4,115.5 128.8,116.9 130.1,116.9 131.5,118.1 132.8,119.1 134.2,119.4 135.6,120.1 136.9,121.3 138.3,121.8 139.6,122.4 141.0,123.2 142.4,124.1 143.7,124.2 145.1,125.4 146.4,125.6 147.8,126.6 149.2,127.3 150.5,127.5 151.9,128.6 153.2,128.9 154.6,129.5 155.9,129.9 157.3,130.8 158.7,131.7 160.0,132.3 161.4,132.9 162.7,133.2 164.1,133.4 165.5,134.0 166.8,134.5 168.2,134.9 169.5,135.5 170.9,135.8 172.3,136.2 173.6,136.1 175.0,137.2 176.3,137.6 177.7,138.1 179.0,138.6 180.4,138.6 181.8,139.5 183.1,139.0 184.5,140.4 185.8,140.3 187.2,140.4 188.6,140.9 189.9,141.2 191.3,142.2 192.6,141.9 194.0,142.3 195.3,142.3 196.7,143.1 198.1,143.4 199.4,144.2 200.8,143.9 202.1,144.6 203.5,144.5 204.9,144.4 206.2,145.5 207.6,145.4 208.9,145.9 210.3,146.2 211.7,146.8 213.0,146.7 214.4,146.7 215.7,146.7 217.1,146.9 218.4,147.6 219.8,147.6 221.2,148.1 222.5,148.6 223.9,148.7 225.2,148.5 226.6,148.8 228.0,149.7 229.3,149.3 230.7,149.7 232.0,149.7 233.4,150.0 234.8,150.6 236.1,150.8 237.5,150.7 238.8,150.8 240.2,151.0 241.5,151.5 242.9,151.0 244.3,152.3 245.6,151.4 247.0,152.0 248.3,152.3 249.7,151.8 251.1,152.5 252.4,152.6 253.8,152.9 255.1,152.8 256.5,153.0 257.9,152.8 259.2,153.1 260.6,153.6 261.9,153.9 263.3,154.0 264.6,154.2 266.0,154.3 267.4,154.5 268.7,154.3 270.1,154.5 271.4,154.9 272.8,154.8 274.2,155.6 275.5,155.1 276.9,155.9 278.2,155.5 279.6,155.3 280.9,155.6 282.3,156.0 283.7,155.9 285.0,156.0 286.4,156.2 287.7,156.2 289.1,156.5 290.5,156.7 291.8,156.8 293.2,156.5 294.5,157.0 295.9,157.3 297.3,156.7 298.6,157.3 300.0,157.5 301.3,157.1 302.7,157.5 304.0,157.6 305.4,157.8 306.8,157.4 308.1,157.5 309.5,157.5 310.8,158.1 312.2,157.3 313.6,158.2 314.9,158.4 316.3,158.3 317.6,158.8 319.0,158.6 320.4,158.6 321.7,158.5"/>
<polyline stroke="#1b9ad6" stroke-width="0.5" points="119.3,109.8 120.6,110.5 122.0,111.8 123.3,112.9 124.7,113.9 126.1,114.9 127.4,115.7 128.8,116.5 130.1,116.6 131.5,117.8 132.8,118.2 134.2,120.1 135.6,120.3 136.9,121.4 138.3,122.5 139.6,122.6 141.0,123.7 142.4,124.0 143.7,124.1 145.1,125.6 146.4,126.3 147.8,127.2 149.2,128.1 150.5,128.3 151.9,129.1 153.2,129.4 154.6,130.2 155.9,130.5 157.3,131.0 158.7,131.4 160.0,132.7 161.4,133.1 162.7,132.9 164.1,133.6 165.5,134.7 166.8,134.1 168.2,136.4 169.5,136.1 170.9,136.5 172.3,136.7 173.6,137.8 175.0,137.8 176.3,138.2 177.7,138.3 179.0,139.8 180.4,139.8 181.8,140.2 183.1,140.0 184.5,140.1 185.8,140.6 187.2,141.8 188.6,141.9 189.9,142.4 191.3,142.7 192.6,143.3 194.0,143.3 195.3,143.8 196.7,143.9 198.1,144.5 199.4,143.9 200.8,145.6 202.1,145.6 203.5,145.9 204.9,145.9 206.2,146.0 207.6,146.6 208.9,145.9 210.3,147.0 211.7,146.9 213.0,147.7 214.4,148.2 215.7,147.4 217.1,148.8 218.4,149.3 219.8,149.3 221.2,149.2 222.5,149.0 223.9,149.8 225.2,150.1 226.6,150.1 228.0,150.2 229.3,151.0 230.7,150.8 232.0,151.3 233.4,151.2 234.8,151.4 236.1,151.4 237.5,151.4 238.8,152.3 240.2,152.7 241.5,152.5 242.9,152.7 244.3,152.9 245.6,152.8 247.0,153.2 248.3,153.2 249.7,153.6 251.1,153.9 252.4,154.3 253.8,153.9 255.1,154.3 256.5,154.1 257.9,154.5 259.2,155.0 260.6,154.9 261.9,155.2 263.3,155.3 264.6,155.9 266.0,155.5 267.4,155.7 268.7,156.3 270.1,155.9 271.4,156.0 272.8,156.7 274.2,156.8 275.5,156.5 276.9,156.5 278.2,156.7 279.6,157.5 280.9,157.4 282.3,157.0 283.7,157.7 285.0,157.1 286.4,157.2 287.7,158.0 289.1,157.7 290.5,157.7 291.8,157.9 293.2,158.3 294.5,158.3 295.9,158.4 297.3,157.9 298.6,158.3 300.0,158.3 301.3,158.7 302.7,158.7 304.0,158.6 305.4,159.1 306.8,159.3 308.1,159.1 309.5,159.4 310.8,159.6 312.2,159.7 313.6,160.0 314.9,159.6 316.3,160.0 317.6,160.1 319.0,160.0 320.4,160.4 321.7,159.9 321.9,157.1 322.6,149.4 323.3,143.1 324.0,137.9 324.7,133.7 325.3,130.2 326.0,127.4 326.7,125.1 327.4,123.2 328.0,121.6 328.7,120.4 329.4,119.3 330.1,118.5 330.8,117.8"/>
<polyline stroke="url(#g2)" stroke-width="0.55" points="113.51,105.22 114.67,106.01 115.82,107.23 116.98,108.01 118.1,108.7 119.3,110.1 120.6,111.1 122.0,112.3 123.3,112.4 124.7,113.7 126.1,114.6 127.4,115.5 128.8,116.5 130.1,117.5 131.5,118.1 132.8,119.2 134.2,119.6 135.6,120.1 136.9,120.7 138.3,122.3 139.6,122.9 141.0,123.8 142.4,124.7 143.7,125.3 145.1,125.7 146.4,126.1 147.8,126.7 149.2,127.9 150.5,128.1 151.9,128.9 153.2,129.4 154.6,129.8 155.9,130.4 157.3,131.0 158.7,131.7 160.0,132.3 161.4,132.8 162.7,133.3 164.1,134.0 165.5,134.4 166.8,135.0 168.2,135.1 169.5,136.2 170.9,136.6 172.3,136.9 173.6,137.4 175.0,138.4 176.3,138.0 177.7,138.3 179.0,139.6 180.4,139.9 181.8,139.6 183.1,140.8 184.5,140.8 185.8,141.2 187.2,141.7 188.6,141.8 189.9,142.6 191.3,143.1 192.6,143.2 194.0,143.4 195.3,143.7 196.7,143.9 198.1,144.0 199.4,144.6 200.8,145.1 202.1,145.3 203.5,146.0 204.9,146.2 206.2,146.5 207.6,147.0 208.9,146.7 210.3,147.5 211.7,147.8 213.0,148.0 214.4,147.6 215.7,147.9 217.1,148.5 218.4,148.6 219.8,149.5 221.2,149.5 222.5,149.5 223.9,150.1 225.2,150.4 226.6,150.5 228.0,150.3 229.3,150.3 230.7,151.2 232.0,150.8 233.4,151.7 234.8,151.6 236.1,151.8 237.5,152.1 238.8,151.8 240.2,152.2 241.5,152.6 242.9,152.5 244.3,153.2 245.6,153.1 247.0,153.0 248.3,153.4 249.7,153.2 251.1,154.2 252.4,154.4 253.8,154.3 255.1,154.5 256.5,154.7 257.9,154.3 259.2,154.8 260.6,155.3 261.9,155.4 263.3,155.2 264.6,155.8 266.0,155.5 267.4,156.1 268.7,155.9 270.1,156.0 271.4,156.6 272.8,156.5 274.2,156.6 275.5,156.6 276.9,156.5 278.2,156.9 279.6,157.4 280.9,157.2 282.3,157.5 283.7,157.4 285.0,157.2 286.4,157.4 287.7,157.4 289.1,158.0 290.5,158.4 291.8,158.3 293.2,158.2 294.5,158.4 295.9,158.7 297.3,158.5 298.6,158.2 300.0,158.8 301.3,158.7 302.7,158.3 304.0,159.1 305.4,158.8 306.8,159.5 308.1,159.5 309.5,159.4 310.8,159.1 312.2,159.4 313.6,159.7 314.9,159.5 316.3,159.3 317.6,159.4 319.0,160.1 320.4,159.8 321.7,160.2"/>
<polyline stroke="#1b9ad6" stroke-width="0.5" points="120.6,110.8 122.0,112.3 123.3,112.9 124.7,114.1 126.1,114.9 127.4,116.0 128.8,116.8 130.1,117.5 131.5,118.0 132.8,119.4 134.2,119.9 135.6,120.4 136.9,122.0 138.3,122.1 139.6,123.4 141.0,123.9 142.4,124.6 143.7,125.5 145.1,125.7 146.4,126.4 147.8,127.5 149.2,128.2 150.5,128.8 151.9,129.3 153.2,130.0 154.6,131.2 155.9,131.1 157.3,131.8 158.7,132.7 160.0,133.4 161.4,134.3 162.7,134.2 164.1,135.0 165.5,135.5 166.8,135.0 168.2,136.9 169.5,137.6 170.9,137.2 172.3,138.5 173.6,138.6 175.0,138.9 176.3,139.7 177.7,139.4 179.0,140.3 180.4,140.7 181.8,141.4 183.1,141.9 184.5,142.1 185.8,141.8 187.2,142.9 188.6,143.1 189.9,143.5 191.3,144.3 192.6,144.2 194.0,145.0 195.3,145.7 196.7,146.1 198.1,145.7 199.4,145.6 200.8,146.4 202.1,146.5 203.5,147.6 204.9,148.5 206.2,147.3 207.6,147.9 208.9,149.0 210.3,148.7 211.7,149.1 213.0,149.5 214.4,150.0 215.7,149.9 217.1,150.0 218.4,151.0 219.8,150.7 221.2,151.6 222.5,151.1 223.9,151.7 225.2,151.5 226.6,151.9 228.0,152.9 229.3,152.9 230.7,152.8 232.0,152.9 233.4,152.9 234.8,153.9 236.1,153.8 237.5,153.2 238.8,154.1 240.2,154.7 241.5,155.2 242.9,154.6 244.3,154.7 245.6,155.4 247.0,155.1 248.3,155.2 249.7,155.3 251.1,155.7 252.4,156.2 253.8,156.5 255.1,156.2 256.5,157.1 257.9,156.3 259.2,156.8 260.6,157.2 261.9,157.9 263.3,157.7 264.6,158.1 266.0,158.1 267.4,157.8 268.7,157.3 270.1,158.6 271.4,158.6 272.8,157.8 274.2,158.6 275.5,158.7 276.9,159.1 278.2,158.5 279.6,159.1 280.9,159.0 282.3,159.2 283.7,159.0 285.0,159.5 286.4,160.0 287.7,159.7 289.1,160.0 290.5,160.7 291.8,160.5 293.2,160.9 294.5,160.5 295.9,160.7 297.3,160.8 298.6,161.3 300.0,160.7 301.3,160.9 302.7,160.7 304.0,161.6 305.4,161.4 306.8,161.6 308.1,161.3 309.5,161.8 310.8,161.5 312.2,162.1 313.6,161.7 314.9,161.9 316.3,162.0 317.6,162.1 319.0,162.2 320.4,161.9 321.7,162.0 321.9,159.3 322.6,151.4 323.3,145.0 324.0,139.8 324.7,135.5 325.3,131.9 326.0,129.0 326.7,126.7 327.4,124.7 328.0,123.2 328.7,121.9 329.4,120.8 330.1,119.9 330.8,119.2"/>
<polyline stroke="url(#g0)" stroke-width="0.55" points="113.51,105.28 114.67,106.36 115.82,106.76 116.98,108.20 118.1,109.1 119.3,109.9 120.6,111.0 122.0,111.9 123.3,113.2 124.7,114.1 126.1,114.6 127.4,116.1 128.8,116.8 130.1,117.5 131.5,118.3 132.8,119.3 134.2,120.0 135.6,120.7 136.9,121.7 138.3,122.7 139.6,123.1 141.0,124.2 142.4,124.9 143.7,125.1 145.1,126.0 146.4,127.2 147.8,128.0 149.2,128.4 150.5,128.8 151.9,129.3 153.2,130.1 154.6,130.2 155.9,131.4 157.3,132.2 158.7,132.6 160.0,132.9 161.4,133.6 162.7,134.2 164.1,134.5 165.5,135.1 166.8,135.5 168.2,136.5 169.5,136.8 170.9,137.3 172.3,137.9 173.6,137.9 175.0,138.7 176.3,139.2 177.7,140.1 179.0,140.3 180.4,140.5 181.8,141.1 183.1,141.8 184.5,141.8 185.8,142.4 187.2,142.5 188.6,143.0 189.9,143.3 191.3,144.2 192.6,144.5 194.0,144.5 195.3,144.3 196.7,145.3 198.1,145.6 199.4,146.2 200.8,145.9 202.1,146.7 203.5,147.2 204.9,147.4 206.2,147.9 207.6,147.9 208.9,148.4 210.3,148.8 211.7,149.4 213.0,149.6 214.4,149.7 215.7,150.5 217.1,150.4 218.4,150.5 219.8,150.8 221.2,150.4 222.5,151.8 223.9,151.6 225.2,151.9 226.6,152.0 228.0,152.4 229.3,152.7 230.7,152.7 232.0,153.1 233.4,152.7 234.8,153.6 236.1,153.6 237.5,153.7 238.8,154.0 240.2,154.4 241.5,154.6 242.9,154.8 244.3,155.2 245.6,155.1 247.0,154.9 248.3,155.1 249.7,155.9 251.1,155.7 252.4,156.1 253.8,156.3 255.1,156.5 256.5,156.4 257.9,157.0 259.2,157.2 260.6,156.8 261.9,157.7 263.3,157.6 264.6,157.5 266.0,157.7 267.4,158.0 268.7,157.5 270.1,157.8 271.4,158.2 272.8,158.2 274.2,158.6 275.5,158.8 276.9,158.5 278.2,158.6 279.6,159.4 280.9,158.8 282.3,158.8 283.7,159.2 285.0,159.9 286.4,159.5 287.7,160.0 289.1,159.6 290.5,160.1 291.8,160.2 293.2,160.5 294.5,160.4 295.9,160.5 297.3,161.0 298.6,160.9 300.0,161.1 301.3,160.7 302.7,161.0 304.0,161.3 305.4,160.9 306.8,161.3 308.1,161.5 309.5,161.6 310.8,161.3 312.2,161.7 313.6,162.2 314.9,162.0 316.3,162.0 317.6,162.7 319.0,161.8 320.4,161.8 321.7,162.5"/>
<polyline stroke="#1b9ad6" stroke-width="0.5" points="123.3,112.9 124.7,114.3 126.1,115.1 127.4,115.4 128.8,117.0 130.1,118.0 131.5,118.7 132.8,119.4 134.2,120.1 135.6,121.1 136.9,121.9 138.3,122.7 139.6,122.6 141.0,124.8 142.4,124.9 143.7,125.4 145.1,126.7 146.4,126.9 147.8,127.6 149.2,129.4 150.5,128.5 151.9,129.5 153.2,130.3 154.6,131.4 155.9,131.8 157.3,132.6 158.7,133.2 160.0,133.2 161.4,134.9 162.7,135.5 164.1,135.5 165.5,135.6 166.8,136.7 168.2,136.7 169.5,137.7 170.9,138.0 172.3,138.5 173.6,138.9 175.0,139.3 176.3,140.0 177.7,140.8 179.0,141.4 180.4,141.0 181.8,141.7 183.1,141.9 184.5,142.9 185.8,142.9 187.2,143.3 188.6,143.6 189.9,144.4 191.3,144.4 192.6,145.6 194.0,145.7 195.3,146.3 196.7,146.8 198.1,146.7 199.4,146.8 200.8,147.7 202.1,148.0 203.5,148.3 204.9,148.7 206.2,148.5 207.6,148.8 208.9,150.0 210.3,149.6 211.7,150.0 213.0,150.6 214.4,151.3 215.7,151.1 217.1,151.7 218.4,151.5 219.8,151.7 221.2,151.7 222.5,152.6 223.9,152.6 225.2,153.1 226.6,153.1 228.0,153.7 229.3,153.9 230.7,154.3 232.0,154.2 233.4,154.4 234.8,154.1 236.1,154.8 237.5,155.2 238.8,155.0 240.2,155.3 241.5,155.9 242.9,155.9 244.3,156.3 245.6,156.5 247.0,156.6 248.3,156.9 249.7,157.2 251.1,157.1 252.4,157.6 253.8,158.2 255.1,158.0 256.5,157.6 257.9,158.0 259.2,158.1 260.6,158.4 261.9,158.9 263.3,159.3 264.6,159.4 266.0,159.1 267.4,159.4 268.7,159.4 270.1,159.8 271.4,159.0 272.8,160.1 274.2,159.6 275.5,160.3 276.9,159.8 278.2,159.8 279.6,160.0 280.9,160.2 282.3,160.6 283.7,161.4 285.0,161.6 286.4,161.1 287.7,161.0 289.1,161.9 290.5,161.1 291.8,161.6 293.2,162.1 294.5,161.8 295.9,161.2 297.3,162.3 298.6,162.1 300.0,162.2 301.3,162.5 302.7,162.1 304.0,162.1 305.4,162.5 306.8,162.3 308.1,162.8 309.5,162.7 310.8,163.4 312.2,162.8 313.6,163.3 314.9,163.9 316.3,163.4 317.6,164.0 319.0,163.9 320.4,163.4 321.7,163.5 321.9,160.7 322.6,152.8 323.3,146.3 324.0,141.0 324.7,136.6 325.3,133.0 326.0,130.1 326.7,127.7 327.4,125.8 328.0,124.1 328.7,122.8 329.4,121.8 330.1,120.9 330.8,120.2"/>
<polyline stroke="url(#g1)" stroke-width="0.55" points="113.51,105.44 114.67,106.51 115.82,107.47 116.98,108.36 118.1,109.4 119.3,110.0 120.6,111.1 122.0,112.0 123.3,113.4 124.7,114.2 126.1,115.0 127.4,116.0 128.8,117.1 130.1,118.0 131.5,118.5 132.8,119.3 134.2,119.9 135.6,121.2 136.9,121.8 138.3,122.5 139.6,123.4 141.0,124.2 142.4,125.0 143.7,125.5 145.1,126.2 146.4,127.4 147.8,128.0 149.2,128.8 150.5,129.2 151.9,130.0 153.2,130.4 154.6,130.8 155.9,131.9 157.3,132.1 158.7,133.0 160.0,133.7 161.4,134.2 162.7,134.8 164.1,135.2 165.5,135.4 166.8,136.4 168.2,137.1 169.5,137.2 170.9,137.8 172.3,138.7 173.6,138.8 175.0,139.6 176.3,140.0 177.7,140.3 179.0,141.1 180.4,141.5 181.8,141.8 183.1,142.7 184.5,142.9 185.8,143.7 187.2,143.6 188.6,144.1 189.9,144.7 191.3,145.1 192.6,145.7 194.0,145.7 195.3,146.3 196.7,146.4 198.1,146.5 199.4,147.3 200.8,147.8 202.1,147.5 203.5,148.4 204.9,148.2 206.2,148.8 207.6,148.9 208.9,149.7 210.3,150.3 211.7,150.3 213.0,150.4 214.4,150.3 215.7,151.3 217.1,151.2 218.4,152.0 219.8,152.0 221.2,151.9 222.5,152.2 223.9,152.6 225.2,153.0 226.6,153.1 228.0,153.3 229.3,153.8 230.7,154.0 232.0,154.2 233.4,154.4 234.8,155.2 236.1,155.0 237.5,155.3 238.8,155.4 240.2,155.8 241.5,155.6 242.9,155.8 244.3,156.2 245.6,155.6 247.0,156.4 248.3,156.5 249.7,157.0 251.1,157.1 252.4,157.1 253.8,157.8 255.1,158.2 256.5,157.4 257.9,158.6 259.2,158.7 260.6,158.6 261.9,158.8 263.3,158.8 264.6,158.5 266.0,158.9 267.4,159.9 268.7,159.6 270.1,159.5 271.4,159.8 272.8,160.4 274.2,160.2 275.5,159.9 276.9,160.3 278.2,160.6 279.6,160.9 280.9,160.4 282.3,160.2 283.7,161.2 285.0,160.8 286.4,161.2 287.7,161.6 289.1,161.8 290.5,161.5 291.8,161.7 293.2,162.0 294.5,161.8 295.9,161.9 297.3,161.4 298.6,162.2 300.0,162.5 301.3,162.7 302.7,162.4 304.0,162.4 305.4,162.8 306.8,162.5 308.1,162.9 309.5,163.0 310.8,163.2 312.2,163.1 313.6,163.2 314.9,163.4 316.3,163.7 317.6,163.8 319.0,163.3 320.4,163.8 321.7,163.2"/>
<polyline stroke="#1b9ad6" stroke-width="0.5" points="124.7,114.3 126.1,115.5 127.4,115.8 128.8,117.1 130.1,117.9 131.5,119.1 132.8,119.8 134.2,120.7 135.6,121.8 136.9,122.2 138.3,123.7 139.6,124.0 141.0,124.9 142.4,125.0 143.7,126.3 145.1,127.5 146.4,127.7 147.8,128.2 149.2,128.9 150.5,129.5 151.9,130.2 153.2,130.9 154.6,131.3 155.9,132.5 157.3,132.8 158.7,133.6 160.0,134.1 161.4,134.7 162.7,135.6 164.1,136.1 165.5,136.6 166.8,138.0 168.2,137.6 169.5,138.0 170.9,138.9 172.3,139.5 173.6,140.0 175.0,140.1 176.3,141.1 177.7,141.1 179.0,142.4 180.4,142.6 181.8,142.4 183.1,143.5 184.5,144.3 185.8,144.2 187.2,144.9 188.6,145.2 189.9,145.4 191.3,146.2 192.6,146.3 194.0,146.9 195.3,147.2 196.7,147.7 198.1,148.5 199.4,148.7 200.8,149.0 202.1,148.9 203.5,149.8 204.9,150.2 206.2,150.2 207.6,150.3 208.9,150.9 210.3,151.3 211.7,152.1 213.0,151.7 214.4,151.8 215.7,152.6 217.1,152.7 218.4,153.4 219.8,153.6 221.2,153.7 222.5,154.0 223.9,154.1 225.2,154.5 226.6,155.0 228.0,155.3 229.3,155.2 230.7,156.0 232.0,155.7 233.4,156.2 234.8,156.8 236.1,156.9 237.5,157.0 238.8,156.3 240.2,157.4 241.5,157.9 242.9,157.4 244.3,158.3 245.6,158.6 247.0,158.3 248.3,158.3 249.7,158.1 251.1,158.9 252.4,159.4 253.8,159.4 255.1,159.1 256.5,159.2 257.9,160.2 259.2,159.6 260.6,160.4 261.9,160.8 263.3,160.4 264.6,160.7 266.0,161.4 267.4,161.4 268.7,161.3 270.1,161.3 271.4,162.0 272.8,161.4 274.2,162.2 275.5,162.3 276.9,161.9 278.2,161.9 279.6,162.5 280.9,162.6 282.3,162.6 283.7,162.5 285.0,163.1 286.4,163.1 287.7,163.4 289.1,163.9 290.5,163.2 291.8,163.7 293.2,163.3 294.5,164.0 295.9,163.5 297.3,163.9 298.6,163.8 300.0,164.6 301.3,164.5 302.7,164.6 304.0,163.9 305.4,164.5 306.8,164.9 308.1,165.6 309.5,165.2 310.8,164.6 312.2,165.3 313.6,165.0 314.9,165.8 316.3,165.2 317.6,165.1 319.0,165.4 320.4,165.9 321.7,166.0 321.9,162.6 322.6,154.5 323.3,147.9 324.0,142.5 324.7,138.1 325.3,134.5 326.0,131.5 326.7,129.1 327.4,127.1 328.0,125.5 328.7,124.1 329.4,123.0 330.1,122.1 330.8,121.4"/>
<polyline stroke="url(#g2)" stroke-width="0.55" points="113.51,105.68 114.67,106.48 115.82,107.51 116.98,108.36 118.1,109.2 119.3,110.0 120.6,111.7 122.0,112.4 123.3,113.8 124.7,114.5 126.1,115.6 127.4,116.3 128.8,117.3 130.1,118.0 131.5,118.8 132.8,119.8 134.2,120.5 135.6,121.2 136.9,122.3 138.3,123.1 139.6,124.1 141.0,124.9 142.4,125.3 143.7,125.8 145.1,126.9 146.4,128.1 147.8,128.6 149.2,129.0 150.5,129.7 151.9,130.7 153.2,131.1 154.6,131.7 155.9,132.8 157.3,133.3 158.7,133.5 160.0,134.5 161.4,135.0 162.7,135.2 164.1,135.9 165.5,136.5 166.8,137.6 168.2,138.0 169.5,138.3 170.9,138.9 172.3,139.2 173.6,139.7 175.0,140.2 176.3,140.6 177.7,141.5 179.0,142.2 180.4,142.2 181.8,142.8 183.1,143.3 184.5,143.9 185.8,144.3 187.2,144.1 188.6,145.7 189.9,145.4 191.3,145.9 192.6,146.2 194.0,147.0 195.3,147.2 196.7,147.7 198.1,148.1 199.4,148.5 200.8,148.3 202.1,148.8 203.5,149.3 204.9,149.7 206.2,150.4 207.6,151.0 208.9,150.8 210.3,151.5 211.7,151.7 213.0,152.1 214.4,152.3 215.7,152.7 217.1,152.5 218.4,152.7 219.8,153.4 221.2,153.6 222.5,154.0 223.9,154.2 225.2,154.7 226.6,154.7 228.0,155.5 229.3,156.0 230.7,155.1 232.0,155.8 233.4,156.1 234.8,156.2 236.1,156.6 237.5,156.6 238.8,157.4 240.2,157.5 241.5,157.2 242.9,157.7 244.3,158.2 245.6,158.6 247.0,157.9 248.3,158.3 249.7,158.6 251.1,159.4 252.4,159.4 253.8,159.7 255.1,160.1 256.5,159.9 257.9,160.0 259.2,159.5 260.6,160.7 261.9,160.2 263.3,160.5 264.6,160.6 266.0,160.9 267.4,160.9 268.7,161.3 270.1,161.1 271.4,161.4 272.8,162.0 274.2,161.9 275.5,161.5 276.9,161.7 278.2,162.5 279.6,162.3 280.9,162.1 282.3,162.6 283.7,163.0 285.0,162.8 286.4,163.0 287.7,163.7 289.1,163.2 290.5,163.4 291.8,163.4 293.2,163.2 294.5,163.3 295.9,163.5 297.3,163.5 298.6,164.4 300.0,164.5 301.3,164.2 302.7,164.4 304.0,164.4 305.4,164.7 306.8,164.5 308.1,164.4 309.5,164.9 310.8,165.0 312.2,165.2 313.6,165.7 314.9,165.3 316.3,165.4 317.6,165.3 319.0,165.7 320.4,165.2 321.7,165.4"/>
<polyline stroke="#1b9ad6" stroke-width="0.5" points="126.1,116.0 127.4,115.6 128.8,117.3 130.1,118.3 131.5,118.9 132.8,119.9 134.2,120.7 135.6,120.9 136.9,121.9 138.3,123.5 139.6,124.0 141.0,124.9 142.4,125.5 143.7,126.8 145.1,127.3 146.4,128.4 147.8,128.5 149.2,129.6 150.5,129.7 151.9,130.7 153.2,131.9 154.6,131.5 155.9,133.5 157.3,132.5 158.7,133.5 160.0,134.1 161.4,134.7 162.7,135.5 164.1,136.6 165.5,137.4 166.8,137.7 168.2,139.1 169.5,138.7 170.9,139.4 172.3,139.9 173.6,140.6 175.0,141.5 176.3,141.5 177.7,142.2 179.0,142.7 180.4,143.0 181.8,143.3 183.1,143.6 184.5,144.9 185.8,144.9 187.2,146.1 188.6,146.3 189.9,146.7 191.3,146.9 192.6,147.2 194.0,147.5 195.3,148.0 196.7,148.5 198.1,149.3 199.4,149.1 200.8,150.0 202.1,149.8 203.5,150.5 204.9,150.1 206.2,151.5 207.6,151.3 208.9,151.5 210.3,152.3 211.7,152.6 213.0,152.3 214.4,152.8 215.7,153.4 217.1,154.0 218.4,154.3 219.8,155.0 221.2,154.2 222.5,155.0 223.9,155.1 225.2,155.1 226.6,155.6 228.0,156.2 229.3,155.9 230.7,157.3 232.0,156.5 233.4,157.0 234.8,157.5 236.1,157.5 237.5,157.5 238.8,158.4 240.2,158.3 241.5,158.8 242.9,158.9 244.3,158.8 245.6,159.4 247.0,159.9 248.3,159.8 249.7,159.4 251.1,159.7 252.4,160.1 253.8,160.0 255.1,160.8 256.5,161.1 257.9,161.4 259.2,161.1 260.6,161.3 261.9,162.0 263.3,161.0 264.6,161.7 266.0,162.7 267.4,162.9 268.7,162.4 270.1,162.6 271.4,163.2 272.8,163.0 274.2,163.1 275.5,163.3 276.9,163.0 278.2,164.0 279.6,163.8 280.9,164.3 282.3,164.0 283.7,164.1 285.0,163.5 286.4,164.7 287.7,164.4 289.1,164.7 290.5,164.7 291.8,165.1 293.2,165.4 294.5,165.3 295.9,165.5 297.3,165.0 298.6,165.5 300.0,165.0 301.3,165.9 302.7,166.3 304.0,166.0 305.4,166.1 306.8,165.3 308.1,166.5 309.5,165.9 310.8,166.4 312.2,166.6 313.6,166.2 314.9,166.8 316.3,166.0 317.6,166.5 319.0,166.5 320.4,167.0 321.7,166.8 321.9,163.9 322.6,155.7 323.3,149.0 324.0,143.6 324.7,139.1 325.3,135.5 326.0,132.5 326.7,130.0 327.4,128.0 328.0,126.3 328.7,125.0 329.4,123.9 330.1,123.0 330.8,122.3"/>
<polyline stroke="url(#g0)" stroke-width="0.55" points="113.51,105.77 114.67,106.50 115.82,107.40 116.98,108.90 118.1,109.5 119.3,110.4 120.6,111.0 122.0,112.4 123.3,113.3 124.7,114.5 126.1,115.4 127.4,116.2 128.8,117.3 130.1,118.1 131.5,119.2 132.8,120.3 134.2,120.8 135.6,121.7 136.9,122.9 138.3,123.6 139.6,124.3 141.0,124.6 142.4,125.6 143.7,126.0 145.1,127.9 146.4,127.9 147.8,128.3 149.2,129.5 150.5,130.0 151.9,131.1 153.2,131.4 154.6,132.2 155.9,133.2 157.3,133.2 158.7,134.1 160.0,134.6 161.4,135.8 162.7,135.7 164.1,136.7 165.5,137.0 166.8,138.0 168.2,138.0 169.5,139.0 170.9,139.4 172.3,140.1 173.6,141.0 175.0,141.1 176.3,141.2 177.7,141.7 179.0,142.7 180.4,142.7 181.8,143.6 183.1,144.4 184.5,144.5 185.8,145.0 187.2,145.1 188.6,146.5 189.9,146.0 191.3,146.5 192.6,147.0 194.0,148.0 195.3,148.5 196.7,148.2 198.1,148.9 199.4,149.0 200.8,149.9 202.1,149.8 203.5,150.2 204.9,151.1 206.2,151.2 207.6,151.0 208.9,152.0 210.3,151.9 211.7,152.5 213.0,153.1 214.4,153.3 215.7,153.8 217.1,153.3 218.4,154.6 219.8,154.8 221.2,154.7 222.5,154.8 223.9,155.7 225.2,155.9 226.6,156.0 228.0,156.3 229.3,156.4 230.7,156.9 232.0,157.0 233.4,157.0 234.8,157.8 236.1,158.2 237.5,158.2 238.8,158.2 240.2,157.7 241.5,158.4 242.9,158.8 244.3,159.9 245.6,159.9 247.0,159.4 248.3,159.9 249.7,160.2 251.1,160.0 252.4,160.1 253.8,160.4 255.1,160.7 256.5,161.5 257.9,161.2 259.2,161.1 260.6,161.6 261.9,162.1 263.3,162.5 264.6,162.1 266.0,162.0 267.4,162.6 268.7,162.6 270.1,162.6 271.4,163.0 272.8,163.0 274.2,163.3 275.5,163.5 276.9,163.3 278.2,163.4 279.6,163.8 280.9,164.2 282.3,163.9 283.7,163.9 285.0,164.0 286.4,164.2 287.7,164.5 289.1,164.7 290.5,164.6 291.8,164.7 293.2,164.8 294.5,165.3 295.9,165.7 297.3,165.2 298.6,165.3 300.0,165.4 301.3,165.5 302.7,166.1 304.0,166.0 305.4,165.7 306.8,166.1 308.1,166.2 309.5,165.8 310.8,166.1 312.2,166.5 313.6,166.4 314.9,166.8 316.3,166.5 317.6,167.1 319.0,167.3 320.4,166.5 321.7,166.7"/>
<polyline stroke="#1b9ad6" stroke-width="0.5" points="128.8,117.2 130.1,118.4 131.5,119.6 132.8,121.0 134.2,121.0 135.6,121.8 136.9,122.8 138.3,123.9 139.6,124.1 141.0,125.3 142.4,125.8 143.7,126.5 145.1,127.2 146.4,128.1 147.8,129.6 149.2,129.7 150.5,130.6 151.9,131.4 153.2,132.2 154.6,132.9 155.9,133.5 157.3,134.1 158.7,134.6 160.0,135.9 161.4,136.2 162.7,136.3 164.1,136.8 165.5,137.9 166.8,138.5 168.2,138.3 169.5,139.9 170.9,139.8 172.3,140.4 173.6,141.1 175.0,141.4 176.3,142.1 177.7,142.9 179.0,143.1 180.4,143.1 181.8,144.3 183.1,144.5 184.5,144.7 185.8,146.1 187.2,146.3 188.6,147.1 189.9,147.2 191.3,147.9 192.6,147.8 194.0,148.7 195.3,148.8 196.7,149.4 198.1,149.7 199.4,150.6 200.8,150.4 202.1,151.1 203.5,151.5 204.9,152.1 206.2,152.1 207.6,152.8 208.9,153.2 210.3,153.3 211.7,154.4 213.0,153.6 214.4,154.5 215.7,154.4 217.1,155.4 218.4,156.0 219.8,156.0 221.2,155.9 222.5,155.9 223.9,156.1 225.2,156.5 226.6,157.4 228.0,157.6 229.3,157.6 230.7,157.8 232.0,158.6 233.4,158.9 234.8,159.3 236.1,158.7 237.5,159.6 238.8,159.5 240.2,159.8 241.5,159.9 242.9,160.8 244.3,160.5 245.6,160.5 247.0,160.8 248.3,161.3 249.7,161.2 251.1,161.5 252.4,161.9 253.8,162.0 255.1,161.5 256.5,162.6 257.9,163.1 259.2,162.6 260.6,162.7 261.9,163.0 263.3,163.4 264.6,163.2 266.0,163.0 267.4,163.4 268.7,164.7 270.1,164.5 271.4,164.3 272.8,165.2 274.2,164.1 275.5,164.5 276.9,165.2 278.2,165.4 279.6,164.9 280.9,165.5 282.3,165.4 283.7,166.0 285.0,166.1 286.4,166.1 287.7,166.0 289.1,165.9 290.5,166.5 291.8,166.1 293.2,166.7 294.5,166.9 295.9,166.9 297.3,167.0 298.6,167.4 300.0,167.7 301.3,167.0 302.7,167.2 304.0,167.2 305.4,168.0 306.8,167.7 308.1,168.1 309.5,167.4 310.8,167.3 312.2,167.8 313.6,167.6 314.9,168.6 316.3,168.3 317.6,168.2 319.0,168.2 320.4,168.4 321.7,168.3 321.9,165.4 322.6,157.2 323.3,150.4 324.0,144.9 324.7,140.4 325.3,136.7 326.0,133.6 326.7,131.1 327.4,129.1 328.0,127.4 328.7,126.1 329.4,124.9 330.1,124.0 330.8,123.3"/>
<polyline stroke="url(#g1)" stroke-width="0.55" points="113.51,105.48 114.67,106.62 115.82,107.30 116.98,108.58 118.1,109.6 119.3,110.7 120.6,111.7 122.0,112.5 123.3,113.9 124.7,115.2 126.1,115.7 127.4,116.6 128.8,117.5 130.1,118.5 131.5,119.5 132.8,120.6 134.2,120.7 135.6,121.7 136.9,122.7 138.3,123.7 139.6,124.6 141.0,125.3 142.4,125.8 143.7,126.8 145.1,127.6 146.4,128.2 147.8,129.2 149.2,130.0 150.5,130.6 151.9,131.3 153.2,131.4 154.6,132.0 155.9,133.6 157.3,134.2 158.7,134.6 160.0,135.8 161.4,136.1 162.7,136.2 164.1,137.4 165.5,137.9 166.8,138.1 168.2,138.5 169.5,139.6 170.9,140.1 172.3,140.6 173.6,141.0 175.0,142.2 176.3,142.2 177.7,143.0 179.0,143.3 180.4,143.7 181.8,145.0 183.1,144.6 184.5,145.3 185.8,145.9 187.2,146.2 188.6,146.6 189.9,146.7 191.3,147.5 192.6,147.9 194.0,148.5 195.3,148.8 196.7,149.7 198.1,149.6 199.4,150.2 200.8,150.4 202.1,150.8 203.5,151.8 204.9,151.7 206.2,152.0 207.6,152.3 208.9,153.5 210.3,153.2 211.7,154.0 213.0,154.2 214.4,154.3 215.7,154.5 217.1,155.0 218.4,155.4 219.8,155.8 221.2,155.8 222.5,156.1 223.9,156.6 225.2,157.4 226.6,157.8 228.0,157.9 229.3,157.9 230.7,157.8 232.0,158.4 233.4,158.7 234.8,158.9 236.1,159.2 237.5,159.5 238.8,159.8 240.2,160.0 241.5,160.1 242.9,160.3 244.3,160.7 245.6,160.5 247.0,161.3 248.3,161.1 249.7,161.6 251.1,161.5 252.4,162.1 253.8,162.0 255.1,162.0 256.5,162.2 257.9,162.9 259.2,163.0 260.6,163.3 261.9,163.3 263.3,163.8 264.6,163.6 266.0,163.9 267.4,163.9 268.7,164.1 270.1,164.2 271.4,164.4 272.8,164.3 274.2,164.7 275.5,165.0 276.9,164.7 278.2,166.0 279.6,165.5 280.9,165.7 282.3,165.1 283.7,165.5 285.0,165.7 286.4,165.9 287.7,166.0 289.1,165.8 290.5,166.8 291.8,166.7 293.2,166.4 294.5,166.9 295.9,166.6 297.3,166.7 298.6,166.7 300.0,167.5 301.3,167.2 302.7,167.0 304.0,167.5 305.4,167.2 306.8,167.7 308.1,168.0 309.5,167.3 310.8,168.3 312.2,167.9 313.6,168.1 314.9,168.3 316.3,168.4 317.6,168.8 319.0,168.3 320.4,168.8 321.7,168.1"/>
<polyline stroke="#1b9ad6" stroke-width="0.5" points="128.8,117.9 130.1,118.5 131.5,119.4 132.8,119.9 134.2,121.7 135.6,122.2 136.9,122.8 138.3,123.7 139.6,124.8 141.0,125.9 142.4,126.8 143.7,127.6 145.1,128.0 146.4,128.7 147.8,129.7 149.2,130.6 150.5,131.0 151.9,132.3 153.2,131.8 154.6,133.5 155.9,133.9 157.3,134.7 158.7,135.3 160.0,135.9 161.4,137.0 162.7,136.7 164.1,137.9 165.5,139.1 166.8,138.7 168.2,139.6 169.5,140.5 170.9,141.0 172.3,141.9 173.6,141.5 175.0,142.7 176.3,143.5 177.7,144.4 179.0,144.8 180.4,145.6 181.8,145.6 183.1,146.2 184.5,146.8 185.8,147.1 187.2,147.5 188.6,148.1 189.9,148.7 191.3,148.8 192.6,149.5 194.0,149.9 195.3,150.5 196.7,151.0 198.1,150.7 199.4,152.0 200.8,152.7 202.1,153.1 203.5,153.3 204.9,152.7 206.2,152.8 207.6,154.8 208.9,154.2 210.3,154.9 211.7,154.6 213.0,155.5 214.4,156.2 215.7,156.0 217.1,156.6 218.4,157.0 219.8,158.0 221.2,157.6 222.5,158.0 223.9,158.3 225.2,158.7 226.6,158.8 228.0,159.3 229.3,160.0 230.7,159.7 232.0,160.6 233.4,160.3 234.8,160.6 236.1,160.4 237.5,160.9 238.8,161.1 240.2,161.4 241.5,162.1 242.9,162.0 244.3,162.2 245.6,163.1 247.0,163.1 248.3,162.7 249.7,162.8 251.1,163.0 252.4,163.4 253.8,164.7 255.1,164.5 256.5,165.0 257.9,165.1 259.2,164.6 260.6,165.2 261.9,165.5 263.3,165.7 264.6,165.9 266.0,166.2 267.4,166.4 268.7,165.8 270.1,166.3 271.4,167.0 272.8,166.8 274.2,166.8 275.5,167.2 276.9,166.9 278.2,167.4 279.6,167.3 280.9,167.3 282.3,167.6 283.7,167.9 285.0,167.8 286.4,167.8 287.7,167.7 289.1,168.2 290.5,168.9 291.8,168.1 293.2,169.2 294.5,169.2 295.9,168.2 297.3,168.9 298.6,168.5 300.0,169.2 301.3,169.4 302.7,170.2 304.0,169.6 305.4,169.5 306.8,169.7 308.1,169.1 309.5,169.7 310.8,169.9 312.2,169.8 313.6,170.1 314.9,170.1 316.3,170.7 317.6,171.1 319.0,170.7 320.4,170.8 321.7,170.7 321.9,167.6 322.6,159.2 323.3,152.3 324.0,146.7 324.7,142.1 325.3,138.3 326.0,135.2 326.7,132.7 327.4,130.6 328.0,128.9 328.7,127.5 329.4,126.4 330.1,125.5 330.8,124.7"/>
<polyline stroke="url(#g2)" stroke-width="0.55" points="113.51,105.77 114.67,106.80 115.82,107.65 116.98,108.74 118.1,109.6 119.3,110.8 120.6,111.8 122.0,112.9 123.3,113.8 124.7,114.6 126.1,115.9 127.4,116.9 128.8,118.0 130.1,118.5 131.5,119.7 132.8,120.8 134.2,121.4 135.6,122.3 136.9,123.0 138.3,124.0 139.6,124.8 141.0,125.9 142.4,126.7 143.7,126.9 145.1,128.1 146.4,129.2 147.8,129.4 149.2,130.2 150.5,131.0 151.9,132.0 153.2,132.5 154.6,133.2 155.9,134.4 157.3,134.6 158.7,135.7 160.0,135.5 161.4,136.4 162.7,137.5 164.1,138.1 165.5,138.7 166.8,139.4 168.2,140.0 169.5,140.8 170.9,140.6 172.3,141.5 173.6,142.3 175.0,142.5 176.3,143.5 177.7,143.0 179.0,144.7 180.4,144.5 181.8,145.8 183.1,146.2 184.5,146.7 185.8,146.6 187.2,147.7 188.6,147.9 189.9,149.2 191.3,149.5 192.6,149.5 194.0,150.1 195.3,150.1 196.7,150.9 198.1,151.0 199.4,151.7 200.8,152.5 202.1,152.2 203.5,153.3 204.9,153.8 206.2,153.7 207.6,154.4 208.9,154.7 210.3,155.1 211.7,155.1 213.0,156.1 214.4,156.5 215.7,156.5 217.1,157.2 218.4,157.1 219.8,157.3 221.2,157.3 222.5,158.2 223.9,158.8 225.2,158.9 226.6,158.6 228.0,159.2 229.3,159.0 230.7,160.0 232.0,160.1 233.4,159.9 234.8,160.9 236.1,161.1 237.5,161.2 238.8,161.4 240.2,161.6 241.5,162.0 242.9,162.1 244.3,162.4 245.6,162.9 247.0,162.8 248.3,162.9 249.7,163.0 251.1,163.8 252.4,164.1 253.8,164.4 255.1,164.5 256.5,164.9 257.9,164.7 259.2,164.3 260.6,165.1 261.9,165.2 263.3,165.6 264.6,165.6 266.0,165.8 267.4,165.9 268.7,166.1 270.1,166.6 271.4,166.2 272.8,166.2 274.2,166.9 275.5,167.0 276.9,167.2 278.2,167.1 279.6,166.9 280.9,167.7 282.3,167.9 283.7,167.0 285.0,167.7 286.4,167.8 287.7,168.4 289.1,168.1 290.5,168.1 291.8,168.6 293.2,169.0 294.5,168.1 295.9,168.8 297.3,169.3 298.6,169.3 300.0,169.2 301.3,169.6 302.7,169.7 304.0,169.7 305.4,169.5 306.8,169.6 308.1,169.8 309.5,170.1 310.8,169.8 312.2,170.1 313.6,170.6 314.9,170.2 316.3,170.4 317.6,170.7 319.0,170.7 320.4,171.1 321.7,171.0"/>
</g>
<g fill="none" stroke-width="1">
<line x1="43.5" y1="20.3" x2="330.6" y2="20.3" stroke="#b5b5b5"/>
<line x1="330.6" y1="20.3" x2="330.6" y2="187.5" stroke="#808080"/>
<line x1="43.5" y1="19.8" x2="43.5" y2="188" stroke="#4a4a4a"/>
<line x1="43.5" y1="187.5" x2="331.1" y2="187.5" stroke="#555"/>
</g>
<g stroke="#999" stroke-width="0.9">
<line x1="40" y1="35.2" x2="43" y2="35.2"/>
<line x1="40" y1="62.7" x2="43" y2="62.7"/>
<line x1="40" y1="90.2" x2="43" y2="90.2"/>
<line x1="40" y1="117.8" x2="43" y2="117.8"/>
<line x1="40" y1="145.3" x2="43" y2="145.3"/>
<line x1="40" y1="172.8" x2="43" y2="172.8"/>
<line x1="84.2" y1="188" x2="84.2" y2="190.5"/>
<line x1="140.8" y1="188" x2="140.8" y2="190.5"/>
<line x1="197.3" y1="188" x2="197.3" y2="190.5"/>
<line x1="253.9" y1="188" x2="253.9" y2="190.5"/>
<line x1="310.4" y1="188" x2="310.4" y2="190.5"/>
</g>
<g font-size="9.5" text-anchor="end">
<text x="39.2" y="38.4">1.00</text>
<text x="39.2" y="65.9">0.95</text>
<text x="39.2" y="93.4">0.90</text>
<text x="39.2" y="121.0">0.85</text>
<text x="39.2" y="148.5">0.80</text>
<text x="39.2" y="176.0">0.75</text>
</g>
<g font-size="9.5" text-anchor="middle">
<text x="84.2" y="199.2">0</text>
<text x="140.8" y="199.2">5</text>
<text x="197.3" y="199.2">10</text>
<text x="253.9" y="199.2">15</text>
<text x="310.4" y="199.2">20</text>
</g>
<text x="181.2" y="214" font-size="10" text-anchor="middle">MST experiment time [s]</text>
<text transform="translate(10.5,100.5) rotate(-90)" font-size="10" text-anchor="middle">Relative Fluorescence [-]</text>
</g>
<g id="panel-b">
<text x="354.5" y="12.5" font-size="14">b</text>
<g stroke="#b2b2b2" stroke-width="1.1">
<line x1="682.9" y1="16.55" x2="682.9" y2="182"/>
<line x1="397.1" y1="16.55" x2="397.1" y2="182.5"/>
<line x1="397.1" y1="182" x2="683.4" y2="182"/>
<line x1="396.6" y1="16.55" x2="683.4" y2="16.55" stroke="#777" stroke-width="1"/>
</g>
<g stroke="#999" stroke-width="0.9">
<line x1="398.6" y1="182" x2="398.6" y2="184.2"/>
<line x1="400.8" y1="182" x2="400.8" y2="184.2"/>
<line x1="402.8" y1="182" x2="402.8" y2="184.2"/>
<line x1="404.5" y1="182" x2="404.5" y2="185.6"/>
<line x1="416.0" y1="182" x2="416.0" y2="184.2"/>
<line x1="422.6" y1="182" x2="422.6" y2="184.2"/>
<line x1="427.4" y1="182" x2="427.4" y2="184.2"/>
<line x1="431.1" y1="182" x2="431.1" y2="184.2"/>
<line x1="434.1" y1="182" x2="434.1" y2="184.2"/>
<line x1="436.6" y1="182" x2="436.6" y2="184.2"/>
<line x1="438.9" y1="182" x2="438.9" y2="184.2"/>
<line x1="440.8" y1="182" x2="440.8" y2="184.2"/>
<line x1="442.5" y1="182" x2="442.5" y2="185.6"/>
<line x1="454.0" y1="182" x2="454.0" y2="184.2"/>
<line x1="460.7" y1="182" x2="460.7" y2="184.2"/>
<line x1="465.4" y1="182" x2="465.4" y2="184.2"/>
<line x1="469.1" y1="182" x2="469.1" y2="184.2"/>
<line x1="472.1" y1="182" x2="472.1" y2="184.2"/>
<line x1="474.7" y1="182" x2="474.7" y2="184.2"/>
<line x1="476.9" y1="182" x2="476.9" y2="184.2"/>
<line x1="478.8" y1="182" x2="478.8" y2="184.2"/>
<line x1="480.6" y1="182" x2="480.6" y2="185.6"/>
<line x1="492.0" y1="182" x2="492.0" y2="184.2"/>
<line x1="498.7" y1="182" x2="498.7" y2="184.2"/>
<line x1="503.5" y1="182" x2="503.5" y2="184.2"/>
<line x1="507.2" y1="182" x2="507.2" y2="184.2"/>
<line x1="510.2" y1="182" x2="510.2" y2="184.2"/>
<line x1="512.7" y1="182" x2="512.7" y2="184.2"/>
<line x1="514.9" y1="182" x2="514.9" y2="184.2"/>
<line x1="516.9" y1="182" x2="516.9" y2="184.2"/>
<line x1="518.6" y1="182" x2="518.6" y2="185.6"/>
<line x1="530.1" y1="182" x2="530.1" y2="184.2"/>
<line x1="536.8" y1="182" x2="536.8" y2="184.2"/>
<line x1="541.5" y1="182" x2="541.5" y2="184.2"/>
<line x1="545.2" y1="182" x2="545.2" y2="184.2"/>
<line x1="548.2" y1="182" x2="548.2" y2="184.2"/>
<line x1="550.8" y1="182" x2="550.8" y2="184.2"/>
<line x1="553.0" y1="182" x2="553.0" y2="184.2"/>
<line x1="554.9" y1="182" x2="554.9" y2="184.2"/>
<line x1="556.7" y1="182" x2="556.7" y2="185.6"/>
<line x1="568.1" y1="182" x2="568.1" y2="184.2"/>
<line x1="574.8" y1="182" x2="574.8" y2="184.2"/>
<line x1="579.6" y1="182" x2="579.6" y2="184.2"/>
<line x1="583.2" y1="182" x2="583.2" y2="184.2"/>
<line x1="586.3" y1="182" x2="586.3" y2="184.2"/>
<line x1="588.8" y1="182" x2="588.8" y2="184.2"/>
<line x1="591.0" y1="182" x2="591.0" y2="184.2"/>
<line x1="593.0" y1="182" x2="593.0" y2="184.2"/>
<line x1="594.7" y1="182" x2="594.7" y2="185.6"/>
<line x1="606.2" y1="182" x2="606.2" y2="184.2"/>
<line x1="612.8" y1="182" x2="612.8" y2="184.2"/>
<line x1="617.6" y1="182" x2="617.6" y2="184.2"/>
<line x1="621.3" y1="182" x2="621.3" y2="184.2"/>
<line x1="624.3" y1="182" x2="624.3" y2="184.2"/>
<line x1="626.8" y1="182" x2="626.8" y2="184.2"/>
<line x1="629.1" y1="182" x2="629.1" y2="184.2"/>
<line x1="631.0" y1="182" x2="631.0" y2="184.2"/>
<line x1="632.7" y1="182" x2="632.7" y2="185.6"/>
<line x1="644.2" y1="182" x2="644.2" y2="184.2"/>
<line x1="650.9" y1="182" x2="650.9" y2="184.2"/>
<line x1="655.6" y1="182" x2="655.6" y2="184.2"/>
<line x1="659.3" y1="182" x2="659.3" y2="184.2"/>
<line x1="662.3" y1="182" x2="662.3" y2="184.2"/>
<line x1="664.9" y1="182" x2="664.9" y2="184.2"/>
<line x1="667.1" y1="182" x2="667.1" y2="184.2"/>
<line x1="669.0" y1="182" x2="669.0" y2="184.2"/>
<line x1="670.8" y1="182" x2="670.8" y2="185.6"/>
<line x1="682.2" y1="182" x2="682.2" y2="184.2"/>
</g>
<g fill="none" stroke-width="0.7">
<polyline stroke="#1f9a55" points="423.5,161.6 425.5,161.6 427.5,161.6 429.4,161.5 431.4,161.5 433.4,161.5 435.4,161.4 437.3,161.4 439.3,161.3 441.3,161.3 443.3,161.2 445.3,161.1 447.2,161.0 449.2,160.9 451.2,160.8 453.2,160.7 455.1,160.5 457.1,160.3 459.1,160.1 461.1,159.9 463.0,159.6 465.0,159.4 467.0,159.0 469.0,158.7 470.9,158.2 472.9,157.7 474.9,157.2 476.9,156.6 478.8,155.9 480.8,155.1 482.8,154.2 484.8,153.3 486.7,152.2 488.7,150.9 490.7,149.6 492.7,148.1 494.6,146.4 496.6,144.5 498.6,142.5 500.6,140.2 502.5,137.8 504.5,135.1 506.5,132.2 508.5,129.1 510.4,125.9 512.4,122.4 514.4,118.7 516.4,114.8 518.3,110.9 520.3,106.8 522.3,102.6 524.3,98.4 526.2,94.1 528.2,89.9 530.2,85.7 532.2,81.6 534.1,77.7 536.1,73.9 538.1,70.2 540.1,66.8 542.1,63.5 544.0,60.5 546.0,57.6 548.0,55.0 550.0,52.6 551.9,50.4 553.9,48.4 555.9,46.5 557.9,44.9 559.8,43.4 561.8,42.0 563.8,40.8 565.8,39.8 567.7,38.8 569.7,37.9 571.7,37.2 573.7,36.5 575.6,35.9 577.6,35.4 579.6,34.9 581.6,34.5 583.5,34.1 585.5,33.8 587.5,33.5 589.5,33.3 591.4,33.0 593.4,32.8 595.4,32.7 597.4,32.5 599.3,32.4 601.3,32.3 603.3,32.2 605.3,32.1 607.2,32.0 609.2,31.9 611.2,31.9 613.2,31.8 615.1,31.8 617.1,31.7 619.1,31.7 621.1,31.6 623.0,31.6 625.0,31.6 627.0,31.6 629.0,31.6 630.9,31.5 632.9,31.5 634.9,31.5 636.9,31.5 638.9,31.5 640.8,31.5 642.8,31.5 644.8,31.5 646.8,31.5 648.7,31.5 650.7,31.4 652.7,31.4 654.7,31.4 656.6,31.4 658.6,31.4"/>
<polyline stroke="#12a0e8" points="423.5,161.3 425.5,161.3 427.5,161.2 429.4,161.1 431.4,161.1 433.4,161.0 435.4,160.9 437.3,160.8 439.3,160.6 441.3,160.5 443.3,160.3 445.3,160.1 447.2,159.9 449.2,159.7 451.2,159.4 453.2,159.1 455.1,158.8 457.1,158.4 459.1,158.0 461.1,157.5 463.0,157.0 465.0,156.4 467.0,155.8 469.0,155.1 470.9,154.3 472.9,153.4 474.9,152.4 476.9,151.3 478.8,150.1 480.8,148.7 482.8,147.3 484.8,145.7 486.7,143.9 488.7,142.0 490.7,139.9 492.7,137.6 494.6,135.1 496.6,132.5 498.6,129.7 500.6,126.7 502.5,123.6 504.5,120.3 506.5,116.8 508.5,113.3 510.4,109.6 512.4,105.8 514.4,101.9 516.4,98.0 518.3,94.1 520.3,90.3 522.3,86.4 524.3,82.7 526.2,79.0 528.2,75.4 530.2,72.0 532.2,68.8 534.1,65.7 536.1,62.7 538.1,60.0 540.1,57.4 542.1,55.0 544.0,52.8 546.0,50.7 548.0,48.8 550.0,47.1 551.9,45.5 553.9,44.1 555.9,42.8 557.9,41.6 559.8,40.5 561.8,39.6 563.8,38.7 565.8,37.9 567.7,37.2 569.7,36.6 571.7,36.0 573.7,35.5 575.6,35.1 577.6,34.7 579.6,34.3 581.6,34.0 583.5,33.7 585.5,33.5 587.5,33.2 589.5,33.0 591.4,32.8 593.4,32.7 595.4,32.5 597.4,32.4 599.3,32.3 601.3,32.2 603.3,32.1 605.3,32.0 607.2,32.0 609.2,31.9 611.2,31.9 613.2,31.8 615.1,31.8 617.1,31.7 619.1,31.7 621.1,31.7 623.0,31.6 625.0,31.6 627.0,31.6 629.0,31.6 630.9,31.5 632.9,31.5 634.9,31.5 636.9,31.5 638.9,31.5 640.8,31.5 642.8,31.5 644.8,31.5 646.8,31.5 648.7,31.5 650.7,31.5 652.7,31.5 654.7,31.4 656.6,31.4 658.6,31.4"/>
<polyline stroke="#8c0a1a" points="423.5,161.3 425.5,161.2 427.5,161.2 429.4,161.1 431.4,161.0 433.4,160.9 435.4,160.8 437.3,160.6 439.3,160.5 441.3,160.3 443.3,160.1 445.3,159.9 447.2,159.7 449.2,159.4 451.2,159.1 453.2,158.7 455.1,158.3 457.1,157.9 459.1,157.4 461.1,156.8 463.0,156.2 465.0,155.4 467.0,154.6 469.0,153.7 470.9,152.7 472.9,151.6 474.9,150.4 476.9,149.0 478.8,147.5 480.8,145.8 482.8,144.0 484.8,141.9 486.7,139.7 488.7,137.3 490.7,134.7 492.7,131.9 494.6,129.0 496.6,125.8 498.6,122.4 500.6,118.9 502.5,115.2 504.5,111.4 506.5,107.4 508.5,103.4 510.4,99.4 512.4,95.3 514.4,91.2 516.4,87.1 518.3,83.2 520.3,79.3 522.3,75.6 524.3,72.0 526.2,68.6 528.2,65.3 530.2,62.3 532.2,59.4 534.1,56.8 536.1,54.3 538.1,52.0 540.1,49.9 542.1,48.0 544.0,46.3 546.0,44.7 548.0,43.3 550.0,42.0 551.9,40.8 553.9,39.8 555.9,38.9 557.9,38.0 559.8,37.3 561.8,36.6 563.8,36.0 565.8,35.5 567.7,35.0 569.7,34.6 571.7,34.2 573.7,33.9 575.6,33.6 577.6,33.4 579.6,33.1 581.6,32.9 583.5,32.8 585.5,32.6 587.5,32.5 589.5,32.3 591.4,32.2 593.4,32.1 595.4,32.1 597.4,32.0 599.3,31.9 601.3,31.9 603.3,31.8 605.3,31.8 607.2,31.7 609.2,31.7 611.2,31.7 613.2,31.6 615.1,31.6 617.1,31.6 619.1,31.6 621.1,31.5 623.0,31.5 625.0,31.5 627.0,31.5 629.0,31.5 630.9,31.5 632.9,31.5 634.9,31.5 636.9,31.5 638.9,31.5 640.8,31.5 642.8,31.4 644.8,31.4 646.8,31.4 648.7,31.4 650.7,31.4 652.7,31.4 654.7,31.4 656.6,31.4 658.6,31.4"/>
</g>
<g>
<circle cx="449.6" cy="161.7" r="2.3" fill="#1f9a55"/>
<circle cx="449.6" cy="167.8" r="2.3" fill="#8c0a1a"/>
<circle cx="449.6" cy="165.5" r="2.3" fill="#12a0e8"/>
<circle cx="461.1" cy="162.5" r="2.3" fill="#1f9a55"/>
<circle cx="461.1" cy="155.9" r="2.3" fill="#8c0a1a"/>
<circle cx="461.1" cy="154.2" r="2.3" fill="#12a0e8"/>
<circle cx="472.5" cy="166.0" r="2.3" fill="#1f9a55"/>
<circle cx="472.5" cy="150.2" r="2.3" fill="#8c0a1a"/>
<circle cx="472.5" cy="156.7" r="2.3" fill="#12a0e8"/>
<circle cx="484.0" cy="139.4" r="2.3" fill="#1f9a55"/>
<circle cx="484.0" cy="135.6" r="2.3" fill="#8c0a1a"/>
<circle cx="484.0" cy="145.4" r="2.3" fill="#12a0e8"/>
<circle cx="495.4" cy="147.2" r="2.3" fill="#1f9a55"/>
<circle cx="495.4" cy="122.5" r="2.3" fill="#8c0a1a"/>
<circle cx="495.4" cy="127.3" r="2.3" fill="#12a0e8"/>
<circle cx="506.9" cy="129.8" r="2.3" fill="#1f9a55"/>
<circle cx="506.9" cy="108.3" r="2.3" fill="#8c0a1a"/>
<circle cx="506.9" cy="115.1" r="2.3" fill="#12a0e8"/>
<circle cx="518.3" cy="98.0" r="2.3" fill="#1f9a55"/>
<circle cx="518.3" cy="82.7" r="2.3" fill="#8c0a1a"/>
<circle cx="518.3" cy="97.0" r="2.3" fill="#12a0e8"/>
<circle cx="529.8" cy="95.0" r="2.3" fill="#1f9a55"/>
<circle cx="529.8" cy="64.6" r="2.3" fill="#8c0a1a"/>
<circle cx="529.8" cy="74.6" r="2.3" fill="#12a0e8"/>
<circle cx="541.2" cy="75.4" r="2.3" fill="#1f9a55"/>
<circle cx="541.2" cy="38.9" r="2.3" fill="#8c0a1a"/>
<circle cx="541.2" cy="43.5" r="2.3" fill="#12a0e8"/>
<circle cx="552.6" cy="40.5" r="2.3" fill="#1f9a55"/>
<circle cx="552.6" cy="44.7" r="2.3" fill="#8c0a1a"/>
<circle cx="552.6" cy="36.7" r="2.3" fill="#12a0e8"/>
<circle cx="564.1" cy="52.0" r="2.3" fill="#1f9a55"/>
<circle cx="564.1" cy="34.2" r="2.3" fill="#8c0a1a"/>
<circle cx="564.1" cy="46.2" r="2.3" fill="#12a0e8"/>
<circle cx="575.5" cy="30.4" r="2.3" fill="#1f9a55"/>
</g>
<g font-size="9.5" text-anchor="end">
<text x="390" y="35.1">1.0</text>
<text x="390" y="100.3">0.5</text>
<text x="390" y="165.6">0.0</text>
</g>
<g font-size="9.5" text-anchor="middle">
<text x="401.7" y="195.8">1,0E-10</text>
<text x="439.2" y="195.8">1,0E-09</text>
<text x="477.5" y="195.8">1,0E-08</text>
<text x="513.7" y="195.8">1,0E-07</text>
<text x="550.9" y="195.8">1,0E-06</text>
<text x="589.0" y="195.8">1,0E-05</text>
<text x="625.6" y="195.8">1,0E-04</text>
<text x="665.1" y="195.8">1,0E-03</text>
</g>
<text x="529.5" y="213.5" font-size="10" text-anchor="middle">Ligand Concentration [M]</text>
<text transform="translate(372.5,106.2) rotate(-90)" font-size="10" text-anchor="middle">Fraction Bound [-]</text>
</g>
<g id="panel-c">
<text x="202.8" y="254.4" font-size="14">c</text>
<rect x="253.3" y="434.1" width="30.6" height="17.4" fill="#fde95c" stroke="#666" stroke-width="0.6"/>
<rect x="301.0" y="435.0" width="30.6" height="16.5" fill="#68d4a1" stroke="#666" stroke-width="0.6"/>
<rect x="348.7" y="445.8" width="30.6" height="5.7" fill="#49c1cd" stroke="#666" stroke-width="0.6"/>
<rect x="396.3" y="442.2" width="30.6" height="9.3" fill="#6f7cc0" stroke="#666" stroke-width="0.6"/>
<rect x="444.2" y="313.5" width="30.6" height="138.0" fill="#cc20f8" stroke="#666" stroke-width="0.6"/>
<rect x="440" y="353.6" width="40" height="4" fill="#fff"/>
<line x1="268.6" y1="434.1" x2="268.6" y2="418.5" stroke="#555" stroke-width="0.7"/>
<line x1="260.8" y1="418.5" x2="276.4" y2="418.5" stroke="#a8a8a8" stroke-width="1"/>
<line x1="316.3" y1="435.0" x2="316.3" y2="426.3" stroke="#555" stroke-width="0.7"/>
<line x1="308.5" y1="426.3" x2="324.1" y2="426.3" stroke="#a8a8a8" stroke-width="1"/>
<line x1="364.0" y1="445.8" x2="364.0" y2="443.6" stroke="#555" stroke-width="0.7"/>
<line x1="356.2" y1="443.6" x2="371.8" y2="443.6" stroke="#a8a8a8" stroke-width="1"/>
<line x1="411.6" y1="442.2" x2="411.6" y2="434.7" stroke="#555" stroke-width="0.7"/>
<line x1="403.8" y1="434.7" x2="419.4" y2="434.7" stroke="#a8a8a8" stroke-width="1"/>
<line x1="459.5" y1="313.5" x2="459.5" y2="286.1" stroke="#555" stroke-width="0.7"/>
<line x1="451.7" y1="286.1" x2="467.3" y2="286.1" stroke="#a8a8a8" stroke-width="1"/>
<path d="M267.4 416.4L268.9 418.0L267.4 419.6L265.8 418.0Z" fill="#222"/>
<path d="M266.0 434.8L267.6 436.4L266.0 437.9L264.4 436.4Z" fill="#222"/>
<path d="M265.4 447.3L266.9 448.9L265.4 450.4L263.8 448.9Z" fill="#222"/>
<path d="M320.0 424.2L321.6 425.8L320.0 427.4L318.4 425.8Z" fill="#222"/>
<path d="M316.6 435.9L318.2 437.5L316.6 439.1L315.1 437.5Z" fill="#222"/>
<path d="M311.3 440.3L312.9 441.9L311.3 443.4L309.8 441.9Z" fill="#222"/>
<path d="M363.4 441.9L364.9 443.5L363.4 445.1L361.8 443.5Z" fill="#222"/>
<path d="M364.4 444.8L365.9 446.4L364.4 447.9L362.8 446.4Z" fill="#222"/>
<path d="M360.7 446.2L362.2 447.8L360.7 449.4L359.1 447.8Z" fill="#222"/>
<path d="M413.1 432.8L414.7 434.3L413.1 435.9L411.6 434.3Z" fill="#222"/>
<path d="M408.4 435.8L409.9 437.4L408.4 438.9L406.8 437.4Z" fill="#222"/>
<path d="M413.9 446.1L415.4 447.6L413.9 449.2L412.3 447.6Z" fill="#222"/>
<path d="M406.1 448.1L407.7 449.7L406.1 451.2L404.6 449.7Z" fill="#222"/>
<path d="M461.7 281.2L463.2 282.8L461.7 284.4L460.1 282.8Z" fill="#222"/>
<path d="M457.5 320.8L459.1 322.3L457.5 323.9L455.9 322.3Z" fill="#222"/>
<path d="M459.5 334.1L461.1 335.6L459.5 337.2L457.9 335.6Z" fill="#222"/>
<g stroke="#3a3a3a" stroke-width="1">
<line x1="244.75" y1="259.2" x2="244.75" y2="353.2" />
<line x1="244.75" y1="357.6" x2="244.75" y2="452" />
<line x1="244.25" y1="451.5" x2="483.6" y2="451.5" stroke="#555"/>
<line x1="241.45" y1="338.6" x2="244.75" y2="338.6"/>
<line x1="242.95" y1="330.7" x2="244.75" y2="330.7"/>
<line x1="241.45" y1="322.8" x2="244.75" y2="322.8"/>
<line x1="242.95" y1="314.9" x2="244.75" y2="314.9"/>
<line x1="241.45" y1="307.0" x2="244.75" y2="307.0"/>
<line x1="242.95" y1="299.1" x2="244.75" y2="299.1"/>
<line x1="241.45" y1="291.2" x2="244.75" y2="291.2"/>
<line x1="242.95" y1="283.3" x2="244.75" y2="283.3"/>
<line x1="241.45" y1="275.4" x2="244.75" y2="275.4"/>
<line x1="242.95" y1="267.5" x2="244.75" y2="267.5"/>
<line x1="241.45" y1="259.6" x2="244.75" y2="259.6"/>
<line x1="241.45" y1="451.4" x2="244.75" y2="451.4"/>
<line x1="242.95" y1="442.0" x2="244.75" y2="442.0"/>
<line x1="241.45" y1="432.6" x2="244.75" y2="432.6"/>
<line x1="242.95" y1="423.2" x2="244.75" y2="423.2"/>
<line x1="241.45" y1="413.8" x2="244.75" y2="413.8"/>
<line x1="242.95" y1="404.4" x2="244.75" y2="404.4"/>
<line x1="241.45" y1="395.0" x2="244.75" y2="395.0"/>
<line x1="242.95" y1="385.6" x2="244.75" y2="385.6"/>
<line x1="241.45" y1="376.2" x2="244.75" y2="376.2"/>
<line x1="242.95" y1="366.8" x2="244.75" y2="366.8"/>
<line x1="268.8" y1="451.5" x2="268.8" y2="455"/>
<line x1="316.5" y1="451.5" x2="316.5" y2="455"/>
<line x1="364.2" y1="451.5" x2="364.2" y2="455"/>
<line x1="411.8" y1="451.5" x2="411.8" y2="455"/>
<line x1="459.7" y1="451.5" x2="459.7" y2="455"/>
</g>
<g stroke="#333" stroke-width="0.8">
<line x1="241.0" y1="355.8" x2="248.8" y2="352.4"/>
<line x1="241.0" y1="359.0" x2="248.8" y2="355.6"/>
</g>
<g font-size="8.2" text-anchor="end">
<text x="238.5" y="262.4">16</text>
<text x="238.5" y="278.2">14</text>
<text x="238.5" y="294.0">12</text>
<text x="238.5" y="309.8">10</text>
<text x="238.5" y="325.6">8</text>
<text x="238.5" y="341.4">6</text>
<text x="238.5" y="379.0">0,8</text>
<text x="238.5" y="397.8">0,6</text>
<text x="238.5" y="416.6">0,4</text>
<text x="238.5" y="435.4">0,2</text>
<text x="238.5" y="454.2">0,0</text>
</g>
<g font-size="8" font-style="italic" text-anchor="middle">
<text x="268.8" y="463.9">AtGRP7</text>
<text x="316.5" y="463.9">AtGRP8</text>
<text x="364.2" y="463.9">AtCOR15A</text>
<text x="411.8" y="463.9">BnPARCL</text>
<text x="459.7" y="463.9">GFP</text>
</g>
<g font-size="9.5" text-anchor="middle">
<text x="269.0" y="411.0">b</text>
<text x="315.8" y="416.0">b</text>
<text x="363.3" y="429.8">b</text>
<text x="411.3" y="425.3">b</text>
<text x="458.7" y="272.3">a</text>
</g>
<text transform="translate(221,355.8) rotate(-90)" font-size="10.2" text-anchor="middle">K<tspan font-size="6.5" dy="2">d</tspan><tspan dy="-2"> [µM]</tspan></text>
<rect x="474.2" y="230.3" width="55.8" height="45.8" fill="#fff" stroke="#aaa" stroke-width="0.8"/>
<rect x="475.4" y="231.5" width="15.8" height="7.8" fill="#fde95c" stroke="#888" stroke-width="0.6"/>
<text x="493.2" y="237.8" font-size="7.25" font-style="italic">AtGRP7</text>
<rect x="475.4" y="240.3" width="15.8" height="7.8" fill="#68d4a1" stroke="#888" stroke-width="0.6"/>
<text x="493.2" y="246.6" font-size="7.25" font-style="italic">AtGRP8</text>
<rect x="475.4" y="249.1" width="15.8" height="7.8" fill="#49c1cd" stroke="#888" stroke-width="0.6"/>
<text x="493.2" y="255.4" font-size="7.25" font-style="italic">AtCOR15A</text>
<rect x="475.4" y="258.0" width="15.8" height="7.8" fill="#6f7cc0" stroke="#888" stroke-width="0.6"/>
<text x="493.2" y="264.3" font-size="7.25" font-style="italic">BnPARCL</text>
<rect x="475.4" y="266.8" width="15.8" height="7.8" fill="#cc20f8" stroke="#888" stroke-width="0.6"/>
<text x="493.2" y="273.1" font-size="7.25" font-style="italic">GFP</text>
</g>
</svg>
</body></html>
